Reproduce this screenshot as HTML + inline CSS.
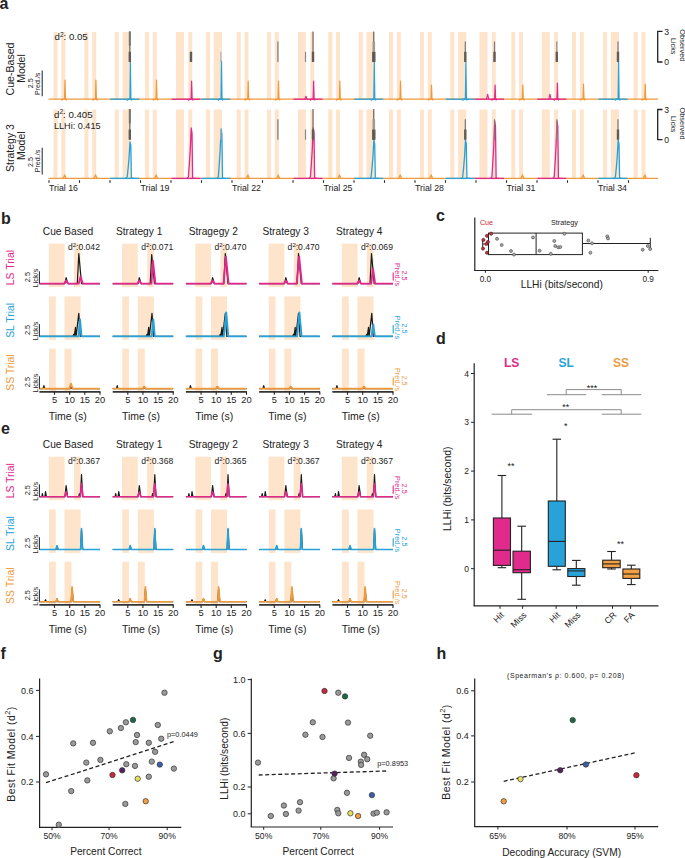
<!DOCTYPE html>
<html><head><meta charset="utf-8"><style>
html,body{margin:0;padding:0;background:#fff;}
body{width:685px;height:858px;overflow:hidden;}
svg{display:block;font-family:"Liberation Sans", sans-serif;}
</style></head><body>
<svg width="685" height="858" viewBox="0 0 685 858">
<rect width="685" height="858" fill="#fff"/>
<text x="-0.6" y="9.0" font-size="16" text-anchor="start" fill="#222" font-weight="bold">a</text>
<rect x="53.5" y="32.0" width="4.0" height="68.0" fill="#fde4cb"/>
<rect x="61.3" y="32.0" width="4.0" height="68.0" fill="#fde4cb"/>
<rect x="84.4" y="32.0" width="4.0" height="68.0" fill="#fde4cb"/>
<rect x="92.2" y="32.0" width="4.0" height="68.0" fill="#fde4cb"/>
<rect x="114.8" y="32.0" width="4.0" height="68.0" fill="#fde4cb"/>
<rect x="122.6" y="32.0" width="8.2" height="68.0" fill="#fde4cb"/>
<rect x="145.0" y="32.0" width="4.0" height="68.0" fill="#fde4cb"/>
<rect x="152.8" y="32.0" width="4.0" height="68.0" fill="#fde4cb"/>
<rect x="176.0" y="32.0" width="8.0" height="68.0" fill="#fde4cb"/>
<rect x="188.3" y="32.0" width="3.9" height="68.0" fill="#fde4cb"/>
<rect x="205.9" y="32.0" width="4.0" height="68.0" fill="#fde4cb"/>
<rect x="213.7" y="32.0" width="8.2" height="68.0" fill="#fde4cb"/>
<rect x="236.7" y="32.0" width="4.0" height="68.0" fill="#fde4cb"/>
<rect x="244.5" y="32.0" width="4.0" height="68.0" fill="#fde4cb"/>
<rect x="267.0" y="32.0" width="4.0" height="68.0" fill="#fde4cb"/>
<rect x="274.8" y="32.0" width="4.0" height="68.0" fill="#fde4cb"/>
<rect x="298.0" y="32.0" width="8.0" height="68.0" fill="#fde4cb"/>
<rect x="310.3" y="32.0" width="3.9" height="68.0" fill="#fde4cb"/>
<rect x="328.3" y="32.0" width="4.0" height="68.0" fill="#fde4cb"/>
<rect x="336.1" y="32.0" width="4.0" height="68.0" fill="#fde4cb"/>
<rect x="358.7" y="32.0" width="4.0" height="68.0" fill="#fde4cb"/>
<rect x="366.5" y="32.0" width="8.2" height="68.0" fill="#fde4cb"/>
<rect x="389.0" y="32.0" width="4.0" height="68.0" fill="#fde4cb"/>
<rect x="396.8" y="32.0" width="4.0" height="68.0" fill="#fde4cb"/>
<rect x="420.0" y="32.0" width="4.0" height="68.0" fill="#fde4cb"/>
<rect x="427.8" y="32.0" width="4.0" height="68.0" fill="#fde4cb"/>
<rect x="450.3" y="32.0" width="4.0" height="68.0" fill="#fde4cb"/>
<rect x="458.1" y="32.0" width="8.2" height="68.0" fill="#fde4cb"/>
<rect x="479.5" y="32.0" width="8.0" height="68.0" fill="#fde4cb"/>
<rect x="491.8" y="32.0" width="3.9" height="68.0" fill="#fde4cb"/>
<rect x="511.3" y="32.0" width="4.0" height="68.0" fill="#fde4cb"/>
<rect x="519.1" y="32.0" width="4.0" height="68.0" fill="#fde4cb"/>
<rect x="541.8" y="32.0" width="8.0" height="68.0" fill="#fde4cb"/>
<rect x="554.1" y="32.0" width="3.9" height="68.0" fill="#fde4cb"/>
<rect x="572.0" y="32.0" width="4.0" height="68.0" fill="#fde4cb"/>
<rect x="579.8" y="32.0" width="4.0" height="68.0" fill="#fde4cb"/>
<rect x="603.0" y="32.0" width="4.0" height="68.0" fill="#fde4cb"/>
<rect x="610.8" y="32.0" width="8.2" height="68.0" fill="#fde4cb"/>
<rect x="633.7" y="32.0" width="4.0" height="68.0" fill="#fde4cb"/>
<rect x="641.5" y="32.0" width="4.0" height="68.0" fill="#fde4cb"/>
<rect x="53.5" y="109.5" width="4.0" height="69.7" fill="#fde4cb"/>
<rect x="61.3" y="109.5" width="4.0" height="69.7" fill="#fde4cb"/>
<rect x="84.4" y="109.5" width="4.0" height="69.7" fill="#fde4cb"/>
<rect x="92.2" y="109.5" width="4.0" height="69.7" fill="#fde4cb"/>
<rect x="114.8" y="109.5" width="4.0" height="69.7" fill="#fde4cb"/>
<rect x="122.6" y="109.5" width="8.2" height="69.7" fill="#fde4cb"/>
<rect x="145.0" y="109.5" width="4.0" height="69.7" fill="#fde4cb"/>
<rect x="152.8" y="109.5" width="4.0" height="69.7" fill="#fde4cb"/>
<rect x="176.0" y="109.5" width="8.0" height="69.7" fill="#fde4cb"/>
<rect x="188.3" y="109.5" width="3.9" height="69.7" fill="#fde4cb"/>
<rect x="205.9" y="109.5" width="4.0" height="69.7" fill="#fde4cb"/>
<rect x="213.7" y="109.5" width="8.2" height="69.7" fill="#fde4cb"/>
<rect x="236.7" y="109.5" width="4.0" height="69.7" fill="#fde4cb"/>
<rect x="244.5" y="109.5" width="4.0" height="69.7" fill="#fde4cb"/>
<rect x="267.0" y="109.5" width="4.0" height="69.7" fill="#fde4cb"/>
<rect x="274.8" y="109.5" width="4.0" height="69.7" fill="#fde4cb"/>
<rect x="298.0" y="109.5" width="8.0" height="69.7" fill="#fde4cb"/>
<rect x="310.3" y="109.5" width="3.9" height="69.7" fill="#fde4cb"/>
<rect x="328.3" y="109.5" width="4.0" height="69.7" fill="#fde4cb"/>
<rect x="336.1" y="109.5" width="4.0" height="69.7" fill="#fde4cb"/>
<rect x="358.7" y="109.5" width="4.0" height="69.7" fill="#fde4cb"/>
<rect x="366.5" y="109.5" width="8.2" height="69.7" fill="#fde4cb"/>
<rect x="389.0" y="109.5" width="4.0" height="69.7" fill="#fde4cb"/>
<rect x="396.8" y="109.5" width="4.0" height="69.7" fill="#fde4cb"/>
<rect x="420.0" y="109.5" width="4.0" height="69.7" fill="#fde4cb"/>
<rect x="427.8" y="109.5" width="4.0" height="69.7" fill="#fde4cb"/>
<rect x="450.3" y="109.5" width="4.0" height="69.7" fill="#fde4cb"/>
<rect x="458.1" y="109.5" width="8.2" height="69.7" fill="#fde4cb"/>
<rect x="479.5" y="109.5" width="8.0" height="69.7" fill="#fde4cb"/>
<rect x="491.8" y="109.5" width="3.9" height="69.7" fill="#fde4cb"/>
<rect x="511.3" y="109.5" width="4.0" height="69.7" fill="#fde4cb"/>
<rect x="519.1" y="109.5" width="4.0" height="69.7" fill="#fde4cb"/>
<rect x="541.8" y="109.5" width="8.0" height="69.7" fill="#fde4cb"/>
<rect x="554.1" y="109.5" width="3.9" height="69.7" fill="#fde4cb"/>
<rect x="572.0" y="109.5" width="4.0" height="69.7" fill="#fde4cb"/>
<rect x="579.8" y="109.5" width="4.0" height="69.7" fill="#fde4cb"/>
<rect x="603.0" y="109.5" width="4.0" height="69.7" fill="#fde4cb"/>
<rect x="610.8" y="109.5" width="8.2" height="69.7" fill="#fde4cb"/>
<rect x="633.7" y="109.5" width="4.0" height="69.7" fill="#fde4cb"/>
<rect x="641.5" y="109.5" width="4.0" height="69.7" fill="#fde4cb"/>
<line x1="48.5" y1="99.2" x2="658.0" y2="99.2" stroke="#ef9a3c" stroke-width="1.3"/>
<line x1="110.3" y1="99.2" x2="139.3" y2="99.2" stroke="#27a2d8" stroke-width="1.3"/>
<line x1="171.5" y1="99.2" x2="200.5" y2="99.2" stroke="#e1288b" stroke-width="1.3"/>
<line x1="201.4" y1="99.2" x2="230.4" y2="99.2" stroke="#27a2d8" stroke-width="1.3"/>
<line x1="293.5" y1="99.2" x2="322.5" y2="99.2" stroke="#e1288b" stroke-width="1.3"/>
<line x1="354.2" y1="99.2" x2="383.2" y2="99.2" stroke="#27a2d8" stroke-width="1.3"/>
<line x1="445.8" y1="99.2" x2="474.8" y2="99.2" stroke="#27a2d8" stroke-width="1.3"/>
<line x1="475.0" y1="99.2" x2="504.0" y2="99.2" stroke="#e1288b" stroke-width="1.3"/>
<line x1="537.3" y1="99.2" x2="566.3" y2="99.2" stroke="#e1288b" stroke-width="1.3"/>
<line x1="598.5" y1="99.2" x2="627.5" y2="99.2" stroke="#27a2d8" stroke-width="1.3"/>
<polyline points="61.0,99.2 62.0,100.1 63.0,99.2 64.5,99.2 65.0,80.0 65.5,98.2 66.0,100.0 67.2,99.2" fill="none" stroke="#ef9a3c" stroke-width="1.2" stroke-linejoin="round"/>
<polyline points="91.9,99.2 92.9,100.1 93.9,99.2 95.4,99.2 95.9,80.0 96.4,98.2 96.9,100.0 98.1,99.2" fill="none" stroke="#ef9a3c" stroke-width="1.2" stroke-linejoin="round"/>
<polyline points="126.4,99.2 127.4,100.1 128.4,99.2 129.9,99.2 130.4,62.0 130.9,98.2 131.4,100.0 132.6,99.2" fill="none" stroke="#27a2d8" stroke-width="1.2" stroke-linejoin="round"/>
<polyline points="152.5,99.2 153.5,100.1 154.5,99.2 156.0,99.2 156.5,80.0 157.0,98.2 157.5,100.0 158.7,99.2" fill="none" stroke="#ef9a3c" stroke-width="1.2" stroke-linejoin="round"/>
<polyline points="187.6,99.2 188.6,100.1 189.6,99.2 191.1,99.2 191.6,81.0 192.1,98.2 192.6,100.0 193.8,99.2" fill="none" stroke="#e1288b" stroke-width="1.2" stroke-linejoin="round"/>
<polyline points="217.5,99.2 218.5,100.1 219.5,99.2 221.0,99.2 221.5,61.0 222.0,98.2 222.5,100.0 223.7,99.2" fill="none" stroke="#27a2d8" stroke-width="1.2" stroke-linejoin="round"/>
<polyline points="244.2,99.2 245.2,100.1 246.2,99.2 247.7,99.2 248.2,81.0 248.7,98.2 249.2,100.0 250.4,99.2" fill="none" stroke="#ef9a3c" stroke-width="1.2" stroke-linejoin="round"/>
<polyline points="274.5,99.2 275.5,100.1 276.5,99.2 278.0,99.2 278.5,81.0 279.0,98.2 279.5,100.0 280.7,99.2" fill="none" stroke="#ef9a3c" stroke-width="1.2" stroke-linejoin="round"/>
<polyline points="309.6,99.2 310.6,100.1 311.6,99.2 313.1,99.2 313.6,81.0 314.1,98.2 314.6,100.0 315.8,99.2" fill="none" stroke="#e1288b" stroke-width="1.2" stroke-linejoin="round"/>
<polyline points="335.8,99.2 336.8,100.1 337.8,99.2 339.3,99.2 339.8,81.0 340.3,98.2 340.8,100.0 342.0,99.2" fill="none" stroke="#ef9a3c" stroke-width="1.2" stroke-linejoin="round"/>
<polyline points="370.3,99.2 371.3,100.1 372.3,99.2 373.8,99.2 374.3,62.0 374.8,98.2 375.3,100.0 376.5,99.2" fill="none" stroke="#27a2d8" stroke-width="1.2" stroke-linejoin="round"/>
<polyline points="396.5,99.2 397.5,100.1 398.5,99.2 400.0,99.2 400.5,81.0 401.0,98.2 401.5,100.0 402.7,99.2" fill="none" stroke="#ef9a3c" stroke-width="1.2" stroke-linejoin="round"/>
<polyline points="427.5,99.2 428.5,100.1 429.5,99.2 431.0,99.2 431.5,85.0 432.0,98.2 432.5,100.0 433.7,99.2" fill="none" stroke="#ef9a3c" stroke-width="1.2" stroke-linejoin="round"/>
<polyline points="461.9,99.2 462.9,100.1 463.9,99.2 465.4,99.2 465.9,62.0 466.4,98.2 466.9,100.0 468.1,99.2" fill="none" stroke="#27a2d8" stroke-width="1.2" stroke-linejoin="round"/>
<polyline points="491.1,99.2 492.1,100.1 493.1,99.2 494.6,99.2 495.1,85.0 495.6,98.2 496.1,100.0 497.3,99.2" fill="none" stroke="#e1288b" stroke-width="1.2" stroke-linejoin="round"/>
<polyline points="518.8,99.2 519.8,100.1 520.8,99.2 522.3,99.2 522.8,85.0 523.3,98.2 523.8,100.0 525.0,99.2" fill="none" stroke="#ef9a3c" stroke-width="1.2" stroke-linejoin="round"/>
<polyline points="553.4,99.2 554.4,100.1 555.4,99.2 556.9,99.2 557.4,83.0 557.9,98.2 558.4,100.0 559.6,99.2" fill="none" stroke="#e1288b" stroke-width="1.2" stroke-linejoin="round"/>
<polyline points="579.5,99.2 580.5,100.1 581.5,99.2 583.0,99.2 583.5,84.0 584.0,98.2 584.5,100.0 585.7,99.2" fill="none" stroke="#ef9a3c" stroke-width="1.2" stroke-linejoin="round"/>
<polyline points="614.6,99.2 615.6,100.1 616.6,99.2 618.1,99.2 618.6,62.0 619.1,98.2 619.6,100.0 620.8,99.2" fill="none" stroke="#27a2d8" stroke-width="1.2" stroke-linejoin="round"/>
<polyline points="641.2,99.2 642.2,100.1 643.2,99.2 644.7,99.2 645.2,84.0 645.7,98.2 646.2,100.0 647.4,99.2" fill="none" stroke="#ef9a3c" stroke-width="1.2" stroke-linejoin="round"/>
<line x1="48.5" y1="178.4" x2="658.0" y2="178.4" stroke="#ef9a3c" stroke-width="1.3"/>
<line x1="110.3" y1="178.4" x2="139.3" y2="178.4" stroke="#27a2d8" stroke-width="1.3"/>
<line x1="171.5" y1="178.4" x2="200.5" y2="178.4" stroke="#e1288b" stroke-width="1.3"/>
<line x1="201.4" y1="178.4" x2="230.4" y2="178.4" stroke="#27a2d8" stroke-width="1.3"/>
<line x1="293.5" y1="178.4" x2="322.5" y2="178.4" stroke="#e1288b" stroke-width="1.3"/>
<line x1="354.2" y1="178.4" x2="383.2" y2="178.4" stroke="#27a2d8" stroke-width="1.3"/>
<line x1="445.8" y1="178.4" x2="474.8" y2="178.4" stroke="#27a2d8" stroke-width="1.3"/>
<line x1="475.0" y1="178.4" x2="504.0" y2="178.4" stroke="#e1288b" stroke-width="1.3"/>
<line x1="537.3" y1="178.4" x2="566.3" y2="178.4" stroke="#e1288b" stroke-width="1.3"/>
<line x1="598.5" y1="178.4" x2="627.5" y2="178.4" stroke="#27a2d8" stroke-width="1.3"/>
<polyline points="63.0,178.4 64.7,174.9 66.2,178.4" fill="none" stroke="#ef9a3c" stroke-width="1.2" stroke-linejoin="round"/>
<polyline points="93.9,178.4 95.6,174.9 97.1,178.4" fill="none" stroke="#ef9a3c" stroke-width="1.2" stroke-linejoin="round"/>
<polyline points="125.9,178.4 127.2,176.9 128.2,167.5 129.0,158.4 130.0,142.0 130.8,145.6 131.4,177.4 132.0,178.4 134.4,178.4" fill="none" stroke="#27a2d8" stroke-width="1.3" stroke-linejoin="round"/>
<polyline points="154.5,178.4 156.2,174.9 157.7,178.4" fill="none" stroke="#ef9a3c" stroke-width="1.2" stroke-linejoin="round"/>
<polyline points="187.1,178.4 188.4,176.9 189.4,163.3 190.2,150.7 191.2,128.0 192.0,133.0 192.6,177.4 193.2,178.4 195.6,178.4" fill="none" stroke="#e1288b" stroke-width="1.3" stroke-linejoin="round"/>
<polyline points="217.0,178.4 218.3,176.9 219.3,163.6 220.1,151.2 221.1,129.0 221.9,133.9 222.5,177.4 223.1,178.4 225.5,178.4" fill="none" stroke="#27a2d8" stroke-width="1.3" stroke-linejoin="round"/>
<polyline points="246.2,178.4 247.9,174.9 249.4,178.4" fill="none" stroke="#ef9a3c" stroke-width="1.2" stroke-linejoin="round"/>
<polyline points="276.5,178.4 278.2,174.9 279.7,178.4" fill="none" stroke="#ef9a3c" stroke-width="1.2" stroke-linejoin="round"/>
<polyline points="309.1,178.4 310.4,176.9 311.4,163.3 312.2,150.7 313.2,128.0 314.0,133.0 314.6,177.4 315.2,178.4 317.6,178.4" fill="none" stroke="#e1288b" stroke-width="1.3" stroke-linejoin="round"/>
<polyline points="337.8,178.4 339.5,174.9 341.0,178.4" fill="none" stroke="#ef9a3c" stroke-width="1.2" stroke-linejoin="round"/>
<polyline points="369.8,178.4 371.1,176.9 372.1,166.9 372.9,157.3 373.9,140.0 374.7,143.8 375.3,177.4 375.9,178.4 378.3,178.4" fill="none" stroke="#27a2d8" stroke-width="1.3" stroke-linejoin="round"/>
<polyline points="398.5,178.4 400.2,174.9 401.7,178.4" fill="none" stroke="#ef9a3c" stroke-width="1.2" stroke-linejoin="round"/>
<polyline points="429.5,178.4 431.2,174.9 432.7,178.4" fill="none" stroke="#ef9a3c" stroke-width="1.2" stroke-linejoin="round"/>
<polyline points="461.4,178.4 462.7,176.9 463.7,166.9 464.5,157.3 465.5,140.0 466.3,143.8 466.9,177.4 467.5,178.4 469.9,178.4" fill="none" stroke="#27a2d8" stroke-width="1.3" stroke-linejoin="round"/>
<polyline points="490.6,178.4 491.9,176.9 492.9,161.2 493.7,146.8 494.7,121.0 495.5,126.7 496.1,177.4 496.7,178.4 499.1,178.4" fill="none" stroke="#e1288b" stroke-width="1.3" stroke-linejoin="round"/>
<polyline points="520.8,178.4 522.5,174.9 524.0,178.4" fill="none" stroke="#ef9a3c" stroke-width="1.2" stroke-linejoin="round"/>
<polyline points="552.9,178.4 554.2,176.9 555.2,161.2 556.0,146.8 557.0,121.0 557.8,126.7 558.4,177.4 559.0,178.4 561.4,178.4" fill="none" stroke="#e1288b" stroke-width="1.3" stroke-linejoin="round"/>
<polyline points="581.5,178.4 583.2,174.9 584.7,178.4" fill="none" stroke="#ef9a3c" stroke-width="1.2" stroke-linejoin="round"/>
<polyline points="614.1,178.4 615.4,176.9 616.4,166.9 617.2,157.3 618.2,140.0 619.0,143.8 619.6,177.4 620.2,178.4 622.6,178.4" fill="none" stroke="#27a2d8" stroke-width="1.3" stroke-linejoin="round"/>
<polyline points="643.2,178.4 644.9,174.9 646.4,178.4" fill="none" stroke="#ef9a3c" stroke-width="1.2" stroke-linejoin="round"/>
<polyline points="486.5,99.2 487.7,94.2 488.7,99.2" fill="none" stroke="#e1288b" stroke-width="1.1" stroke-linejoin="round"/>
<polyline points="548.8,99.2 550.0,94.2 551.0,99.2" fill="none" stroke="#e1288b" stroke-width="1.1" stroke-linejoin="round"/>
<polyline points="304.8,99.2 306.0,96.2 307.0,99.2" fill="none" stroke="#e1288b" stroke-width="1.1" stroke-linejoin="round"/>
<line x1="129.8" y1="62.0" x2="129.8" y2="31.4" stroke="#6a6a6a" stroke-width="1.2"/>
<rect x="128.6" y="51.8" width="2.4" height="10.2" fill="#625c58"/>
<rect x="128.8" y="31.4" width="2.0" height="14.3" fill="#7a7470"/>
<line x1="191.0" y1="62.0" x2="191.0" y2="51.8" stroke="#6a6a6a" stroke-width="1.2"/>
<rect x="189.8" y="51.8" width="2.4" height="10.2" fill="#625c58"/>
<line x1="220.9" y1="62.0" x2="220.9" y2="51.8" stroke="#b0b0b0" stroke-width="1.2"/>
<line x1="277.9" y1="62.0" x2="277.9" y2="41.6" stroke="#7a7a7a" stroke-width="1.2"/>
<line x1="305.5" y1="62.0" x2="305.5" y2="51.8" stroke="#8a8a8a" stroke-width="1.2"/>
<line x1="313.0" y1="62.0" x2="313.0" y2="31.4" stroke="#6a6a6a" stroke-width="1.2"/>
<rect x="311.8" y="51.8" width="2.4" height="10.2" fill="#625c58"/>
<line x1="373.7" y1="62.0" x2="373.7" y2="31.4" stroke="#6a6a6a" stroke-width="1.2"/>
<rect x="372.5" y="51.8" width="2.4" height="10.2" fill="#625c58"/>
<rect x="372.1" y="51.8" width="3.4" height="10.2" fill="#5e5a56"/>
<rect x="372.5" y="41.6" width="2.6" height="10.2" fill="#a09a96"/>
<line x1="465.3" y1="62.0" x2="465.3" y2="41.6" stroke="#777" stroke-width="1.2"/>
<rect x="464.1" y="51.8" width="2.4" height="10.2" fill="#625c58"/>
<line x1="494.5" y1="62.0" x2="494.5" y2="41.6" stroke="#777" stroke-width="1.2"/>
<rect x="493.3" y="51.8" width="2.4" height="10.2" fill="#625c58"/>
<line x1="556.8" y1="62.0" x2="556.8" y2="41.6" stroke="#8a8a8a" stroke-width="1.2"/>
<rect x="555.6" y="51.8" width="2.4" height="10.2" fill="#625c58"/>
<line x1="618.0" y1="62.0" x2="618.0" y2="41.6" stroke="#777" stroke-width="1.2"/>
<rect x="616.8" y="51.8" width="2.4" height="10.2" fill="#625c58"/>
<line x1="129.8" y1="139.7" x2="129.8" y2="109.1" stroke="#6a6a6a" stroke-width="1.2"/>
<rect x="128.6" y="129.5" width="2.4" height="10.2" fill="#625c58"/>
<rect x="128.8" y="109.1" width="2.0" height="14.3" fill="#7a7470"/>
<line x1="220.9" y1="139.7" x2="220.9" y2="129.5" stroke="#b0b0b0" stroke-width="1.2"/>
<line x1="277.9" y1="139.7" x2="277.9" y2="119.3" stroke="#7a7a7a" stroke-width="1.2"/>
<line x1="305.5" y1="139.7" x2="305.5" y2="129.5" stroke="#8a8a8a" stroke-width="1.2"/>
<line x1="313.0" y1="139.7" x2="313.0" y2="109.1" stroke="#6a6a6a" stroke-width="1.2"/>
<rect x="311.8" y="129.5" width="2.4" height="10.2" fill="#625c58"/>
<line x1="373.7" y1="139.7" x2="373.7" y2="109.1" stroke="#6a6a6a" stroke-width="1.2"/>
<rect x="372.5" y="129.5" width="2.4" height="10.2" fill="#625c58"/>
<rect x="372.1" y="129.5" width="3.4" height="10.2" fill="#5e5a56"/>
<rect x="372.5" y="119.3" width="2.6" height="10.2" fill="#a09a96"/>
<line x1="465.3" y1="139.7" x2="465.3" y2="119.3" stroke="#777" stroke-width="1.2"/>
<rect x="464.1" y="129.5" width="2.4" height="10.2" fill="#625c58"/>
<line x1="494.5" y1="139.7" x2="494.5" y2="119.3" stroke="#777" stroke-width="1.2"/>
<line x1="556.8" y1="139.7" x2="556.8" y2="119.3" stroke="#8a8a8a" stroke-width="1.2"/>
<line x1="618.0" y1="139.7" x2="618.0" y2="119.3" stroke="#777" stroke-width="1.2"/>
<rect x="616.8" y="129.5" width="2.4" height="10.2" fill="#625c58"/>
<text x="10.0" y="69.0" font-size="10.6" text-anchor="middle" dominant-baseline="central" fill="#222" font-weight="normal" transform="rotate(-90 10.0 69.0)">Cue-Based</text>
<text x="21.0" y="68.5" font-size="10.5" text-anchor="middle" dominant-baseline="central" fill="#222" font-weight="normal" transform="rotate(-90 21.0 68.5)">Model</text>
<text x="31.0" y="83.3" font-size="7.1" text-anchor="middle" dominant-baseline="central" fill="#222" font-weight="normal" transform="rotate(-90 31.0 83.3)">2.5</text>
<text x="38.3" y="83.8" font-size="7.1" text-anchor="middle" dominant-baseline="central" fill="#222" font-weight="normal" transform="rotate(-90 38.3 83.8)">Pred./s</text>
<line x1="42.2" y1="70.5" x2="42.2" y2="96.2" stroke="#222" stroke-width="1"/>
<text x="10.0" y="148.0" font-size="10.5" text-anchor="middle" dominant-baseline="central" fill="#222" font-weight="normal" transform="rotate(-90 10.0 148.0)">Strategy 3</text>
<text x="21.0" y="145.7" font-size="10.5" text-anchor="middle" dominant-baseline="central" fill="#222" font-weight="normal" transform="rotate(-90 21.0 145.7)">Model</text>
<text x="31.0" y="162.0" font-size="7.1" text-anchor="middle" dominant-baseline="central" fill="#222" font-weight="normal" transform="rotate(-90 31.0 162.0)">2.5</text>
<text x="38.3" y="161.0" font-size="7.1" text-anchor="middle" dominant-baseline="central" fill="#222" font-weight="normal" transform="rotate(-90 38.3 161.0)">Pred./s</text>
<line x1="42.2" y1="147.7" x2="42.2" y2="174.5" stroke="#222" stroke-width="1"/>
<text x="54.5" y="40.0" font-size="9.7" text-anchor="start" fill="#222" font-weight="normal">d<tspan dy="-3.5" font-size="6.5">2</tspan><tspan dy="3.5">: 0.05</tspan></text>
<text x="54.0" y="117.5" font-size="9.7" text-anchor="start" fill="#222" font-weight="normal">d<tspan dy="-3.5" font-size="6.5">2</tspan><tspan dy="3.5">: 0.405</tspan></text>
<text x="54.0" y="128.5" font-size="9.1" text-anchor="start" fill="#222" font-weight="normal">LLHi: 0.415</text>
<line x1="49.0" y1="180.3" x2="49.0" y2="182.8" stroke="#222" stroke-width="1.1"/>
<line x1="79.5" y1="180.3" x2="79.5" y2="182.8" stroke="#222" stroke-width="1.1"/>
<line x1="110.0" y1="180.3" x2="110.0" y2="182.8" stroke="#222" stroke-width="1.1"/>
<line x1="140.5" y1="180.3" x2="140.5" y2="182.8" stroke="#222" stroke-width="1.1"/>
<line x1="171.0" y1="180.3" x2="171.0" y2="182.8" stroke="#222" stroke-width="1.1"/>
<line x1="201.5" y1="180.3" x2="201.5" y2="182.8" stroke="#222" stroke-width="1.1"/>
<line x1="232.0" y1="180.3" x2="232.0" y2="182.8" stroke="#222" stroke-width="1.1"/>
<line x1="262.5" y1="180.3" x2="262.5" y2="182.8" stroke="#222" stroke-width="1.1"/>
<line x1="293.0" y1="180.3" x2="293.0" y2="182.8" stroke="#222" stroke-width="1.1"/>
<line x1="323.5" y1="180.3" x2="323.5" y2="182.8" stroke="#222" stroke-width="1.1"/>
<line x1="354.0" y1="180.3" x2="354.0" y2="182.8" stroke="#222" stroke-width="1.1"/>
<line x1="384.5" y1="180.3" x2="384.5" y2="182.8" stroke="#222" stroke-width="1.1"/>
<line x1="415.0" y1="180.3" x2="415.0" y2="182.8" stroke="#222" stroke-width="1.1"/>
<line x1="445.5" y1="180.3" x2="445.5" y2="182.8" stroke="#222" stroke-width="1.1"/>
<line x1="476.0" y1="180.3" x2="476.0" y2="182.8" stroke="#222" stroke-width="1.1"/>
<line x1="506.5" y1="180.3" x2="506.5" y2="182.8" stroke="#222" stroke-width="1.1"/>
<line x1="537.0" y1="180.3" x2="537.0" y2="182.8" stroke="#222" stroke-width="1.1"/>
<line x1="567.5" y1="180.3" x2="567.5" y2="182.8" stroke="#222" stroke-width="1.1"/>
<line x1="598.0" y1="180.3" x2="598.0" y2="182.8" stroke="#222" stroke-width="1.1"/>
<line x1="628.5" y1="180.3" x2="628.5" y2="182.8" stroke="#222" stroke-width="1.1"/>
<text x="49.0" y="190.6" font-size="8.8" text-anchor="start" fill="#222" font-weight="normal">Trial 16</text>
<text x="140.5" y="190.6" font-size="8.8" text-anchor="start" fill="#222" font-weight="normal">Trial 19</text>
<text x="232.0" y="190.6" font-size="8.8" text-anchor="start" fill="#222" font-weight="normal">Trial 22</text>
<text x="323.5" y="190.6" font-size="8.8" text-anchor="start" fill="#222" font-weight="normal">Trial 25</text>
<text x="415.0" y="190.6" font-size="8.8" text-anchor="start" fill="#222" font-weight="normal">Trial 28</text>
<text x="506.5" y="190.6" font-size="8.8" text-anchor="start" fill="#222" font-weight="normal">Trial 31</text>
<text x="598.0" y="190.6" font-size="8.8" text-anchor="start" fill="#222" font-weight="normal">Trial 34</text>
<polyline points="662.5,31.4 657.7,31.4 657.7,62.0 662.5,62.0" fill="none" stroke="#222" stroke-width="1.3" stroke-linejoin="round"/>
<text x="664.3" y="34.9" font-size="8.6" text-anchor="start" fill="#222" font-weight="normal">3</text>
<text x="664.3" y="65.4" font-size="8.6" text-anchor="start" fill="#222" font-weight="normal">0</text>
<text x="682.0" y="45.4" font-size="7.4" text-anchor="middle" dominant-baseline="central" fill="#222" font-weight="normal" transform="rotate(90 682.0 45.4)">Observed</text>
<text x="673.6" y="46.2" font-size="7.2" text-anchor="middle" dominant-baseline="central" fill="#222" font-weight="normal" transform="rotate(90 673.6 46.2)">Licks</text>
<polyline points="662.5,109.5 657.7,109.5 657.7,139.7 662.5,139.7" fill="none" stroke="#222" stroke-width="1.3" stroke-linejoin="round"/>
<text x="664.3" y="113.0" font-size="8.6" text-anchor="start" fill="#222" font-weight="normal">3</text>
<text x="664.3" y="143.1" font-size="8.6" text-anchor="start" fill="#222" font-weight="normal">0</text>
<text x="682.0" y="123.5" font-size="7.4" text-anchor="middle" dominant-baseline="central" fill="#222" font-weight="normal" transform="rotate(90 682.0 123.5)">Observed</text>
<text x="673.6" y="124.3" font-size="7.2" text-anchor="middle" dominant-baseline="central" fill="#222" font-weight="normal" transform="rotate(90 673.6 124.3)">Licks</text>
<text x="1.0" y="223.6" font-size="16" text-anchor="start" fill="#222" font-weight="bold">b</text>
<text x="68.0" y="234.5" font-size="10.2" text-anchor="middle" fill="#222" font-weight="normal">Cue Based</text>
<rect x="48.8" y="243.6" width="15.8" height="43.5" fill="#fde4cb"/>
<rect x="73.9" y="243.6" width="6.7" height="43.5" fill="#fde4cb"/>
<rect x="49.1" y="296.4" width="6.7" height="43.5" fill="#fde4cb"/>
<rect x="64.5" y="296.4" width="16.1" height="43.5" fill="#fde4cb"/>
<rect x="49.1" y="348.6" width="6.7" height="43.5" fill="#fde4cb"/>
<rect x="64.5" y="348.6" width="7.0" height="43.5" fill="#fde4cb"/>
<text x="67.9" y="250.4" font-size="8.6" text-anchor="start" fill="#222" font-weight="normal">d<tspan dy="-3" font-size="6">2</tspan><tspan dy="3">:0.042</tspan></text>
<polyline points="39.4,283.6 64.9,283.6 66.1,277.6 67.9,283.6 77.3,283.6 78.8,253.6 81.5,283.6 100.0,283.6" fill="none" stroke="#1a1a1a" stroke-width="1.2" stroke-linejoin="round"/>
<polyline points="39.4,283.6 64.2,283.6 66.1,280.6 67.9,283.6 78.8,283.6 80.6,276.6 82.7,283.6 100.0,283.6" fill="none" stroke="#e1288b" stroke-width="1.9" stroke-linejoin="round"/>
<polyline points="39.4,336.4 73.0,336.4 73.6,334.4 73.9,336.4 74.2,336.4 75.5,327.4 75.8,336.4 76.1,336.4 78.8,313.4 80.3,336.4 100.0,336.4" fill="none" stroke="#1a1a1a" stroke-width="1.2" stroke-linejoin="round"/>
<polyline points="39.4,336.4 78.5,336.4 80.0,319.4 81.5,336.4 100.0,336.4" fill="none" stroke="#27a2d8" stroke-width="1.9" stroke-linejoin="round"/>
<polyline points="39.4,388.6 43.0,388.6 43.9,385.6 44.9,388.6 70.0,388.6 70.9,385.6 71.8,388.6 100.0,388.6" fill="none" stroke="#1a1a1a" stroke-width="1.2" stroke-linejoin="round"/>
<polyline points="39.4,388.6 69.4,388.6 70.9,383.6 72.7,388.6 100.0,388.6" fill="none" stroke="#ef9a3c" stroke-width="1.9" stroke-linejoin="round"/>
<line x1="39.4" y1="391.8" x2="100.4" y2="391.8" stroke="#333" stroke-width="1.8"/>
<line x1="54.5" y1="391.8" x2="54.5" y2="394.8" stroke="#222" stroke-width="1.1"/>
<text x="54.5" y="403.2" font-size="9.3" text-anchor="middle" fill="#222" font-weight="normal">5</text>
<line x1="69.7" y1="391.8" x2="69.7" y2="394.8" stroke="#222" stroke-width="1.1"/>
<text x="69.7" y="403.2" font-size="9.3" text-anchor="middle" fill="#222" font-weight="normal">10</text>
<line x1="84.8" y1="391.8" x2="84.8" y2="394.8" stroke="#222" stroke-width="1.1"/>
<text x="84.8" y="403.2" font-size="9.3" text-anchor="middle" fill="#222" font-weight="normal">15</text>
<line x1="100.0" y1="391.8" x2="100.0" y2="394.8" stroke="#222" stroke-width="1.1"/>
<text x="100.0" y="403.2" font-size="9.3" text-anchor="middle" fill="#222" font-weight="normal">20</text>
<text x="67.7" y="419.5" font-size="10.5" text-anchor="middle" fill="#222" font-weight="normal">Time (s)</text>
<line x1="39.4" y1="271.3" x2="39.4" y2="283.6" stroke="#222" stroke-width="1"/>
<text x="27.8" y="277.1" font-size="7.4" text-anchor="middle" dominant-baseline="central" fill="#222" font-weight="normal" transform="rotate(-90 27.8 277.1)">2.5</text>
<text x="35.6" y="278.1" font-size="7.4" text-anchor="middle" dominant-baseline="central" fill="#222" font-weight="normal" transform="rotate(-90 35.6 278.1)">Lick/s</text>
<text x="10.6" y="267.6" font-size="10.4" text-anchor="middle" dominant-baseline="central" fill="#e1288b" font-weight="normal" transform="rotate(-90 10.6 267.6)">LS Trial</text>
<line x1="39.4" y1="324.1" x2="39.4" y2="336.4" stroke="#222" stroke-width="1"/>
<text x="27.8" y="329.9" font-size="7.4" text-anchor="middle" dominant-baseline="central" fill="#222" font-weight="normal" transform="rotate(-90 27.8 329.9)">2.5</text>
<text x="35.6" y="330.9" font-size="7.4" text-anchor="middle" dominant-baseline="central" fill="#222" font-weight="normal" transform="rotate(-90 35.6 330.9)">Lick/s</text>
<text x="10.6" y="320.4" font-size="10.4" text-anchor="middle" dominant-baseline="central" fill="#27a2d8" font-weight="normal" transform="rotate(-90 10.6 320.4)">SL Trial</text>
<line x1="39.4" y1="376.3" x2="39.4" y2="388.6" stroke="#222" stroke-width="1"/>
<text x="27.8" y="382.1" font-size="7.4" text-anchor="middle" dominant-baseline="central" fill="#222" font-weight="normal" transform="rotate(-90 27.8 382.1)">2.5</text>
<text x="35.6" y="383.1" font-size="7.4" text-anchor="middle" dominant-baseline="central" fill="#222" font-weight="normal" transform="rotate(-90 35.6 383.1)">Lick/s</text>
<text x="10.6" y="372.6" font-size="10.4" text-anchor="middle" dominant-baseline="central" fill="#ef9a3c" font-weight="normal" transform="rotate(-90 10.6 372.6)">SS Trial</text>
<text x="139.1" y="234.5" font-size="10.2" text-anchor="middle" fill="#222" font-weight="normal">Strategy 1</text>
<rect x="122.0" y="243.6" width="15.8" height="43.5" fill="#fde4cb"/>
<rect x="147.2" y="243.6" width="6.7" height="43.5" fill="#fde4cb"/>
<rect x="122.3" y="296.4" width="6.7" height="43.5" fill="#fde4cb"/>
<rect x="137.8" y="296.4" width="16.1" height="43.5" fill="#fde4cb"/>
<rect x="122.3" y="348.6" width="6.7" height="43.5" fill="#fde4cb"/>
<rect x="137.8" y="348.6" width="7.0" height="43.5" fill="#fde4cb"/>
<text x="141.2" y="250.4" font-size="8.6" text-anchor="start" fill="#222" font-weight="normal">d<tspan dy="-3" font-size="6">2</tspan><tspan dy="3">:0.071</tspan></text>
<polyline points="112.7,283.6 138.1,283.6 139.3,277.6 141.1,283.6 150.2,283.6 151.7,254.6 154.5,283.6 173.2,283.6" fill="none" stroke="#1a1a1a" stroke-width="1.2" stroke-linejoin="round"/>
<polyline points="112.7,283.6 137.5,283.6 139.3,280.6 141.1,283.6 151.4,283.6 152.9,260.6 155.4,283.6 173.2,283.6" fill="none" stroke="#e1288b" stroke-width="1.9" stroke-linejoin="round"/>
<polyline points="112.7,336.4 146.3,336.4 146.9,334.4 147.2,336.4 147.5,336.4 148.7,327.4 149.0,336.4 149.3,336.4 152.0,313.4 153.6,336.4 173.2,336.4" fill="none" stroke="#1a1a1a" stroke-width="1.2" stroke-linejoin="round"/>
<polyline points="112.7,336.4 151.7,336.4 153.3,319.4 154.8,336.4 173.2,336.4" fill="none" stroke="#27a2d8" stroke-width="1.9" stroke-linejoin="round"/>
<polyline points="112.7,388.6 116.3,388.6 117.2,385.6 118.1,388.6 143.3,388.6 144.2,386.6 145.1,388.6 173.2,388.6" fill="none" stroke="#1a1a1a" stroke-width="1.2" stroke-linejoin="round"/>
<polyline points="112.7,388.6 142.6,388.6 144.2,386.6 146.0,388.6 173.2,388.6" fill="none" stroke="#ef9a3c" stroke-width="1.9" stroke-linejoin="round"/>
<line x1="112.7" y1="391.8" x2="173.7" y2="391.8" stroke="#333" stroke-width="1.8"/>
<line x1="127.8" y1="391.8" x2="127.8" y2="394.8" stroke="#222" stroke-width="1.1"/>
<text x="127.8" y="403.2" font-size="9.3" text-anchor="middle" fill="#222" font-weight="normal">5</text>
<line x1="142.9" y1="391.8" x2="142.9" y2="394.8" stroke="#222" stroke-width="1.1"/>
<text x="142.9" y="403.2" font-size="9.3" text-anchor="middle" fill="#222" font-weight="normal">10</text>
<line x1="158.1" y1="391.8" x2="158.1" y2="394.8" stroke="#222" stroke-width="1.1"/>
<text x="158.1" y="403.2" font-size="9.3" text-anchor="middle" fill="#222" font-weight="normal">15</text>
<line x1="173.2" y1="391.8" x2="173.2" y2="394.8" stroke="#222" stroke-width="1.1"/>
<text x="173.2" y="403.2" font-size="9.3" text-anchor="middle" fill="#222" font-weight="normal">20</text>
<text x="141.0" y="419.5" font-size="10.5" text-anchor="middle" fill="#222" font-weight="normal">Time (s)</text>
<text x="213.3" y="234.5" font-size="10.2" text-anchor="middle" fill="#222" font-weight="normal">Stragegy 2</text>
<rect x="195.3" y="243.6" width="15.8" height="43.5" fill="#fde4cb"/>
<rect x="220.4" y="243.6" width="6.7" height="43.5" fill="#fde4cb"/>
<rect x="195.6" y="296.4" width="6.7" height="43.5" fill="#fde4cb"/>
<rect x="211.0" y="296.4" width="16.1" height="43.5" fill="#fde4cb"/>
<rect x="195.6" y="348.6" width="6.7" height="43.5" fill="#fde4cb"/>
<rect x="211.0" y="348.6" width="7.0" height="43.5" fill="#fde4cb"/>
<text x="214.4" y="250.4" font-size="8.6" text-anchor="start" fill="#222" font-weight="normal">d<tspan dy="-3" font-size="6">2</tspan><tspan dy="3">:0.470</tspan></text>
<polyline points="185.9,283.6 211.4,283.6 212.6,277.6 214.4,283.6 223.8,283.6 225.3,253.6 228.0,283.6 246.5,283.6" fill="none" stroke="#1a1a1a" stroke-width="1.2" stroke-linejoin="round"/>
<polyline points="185.9,283.6 210.7,283.6 212.6,280.6 214.4,283.6 223.5,283.6 225.9,256.6 228.6,283.6 246.5,283.6" fill="none" stroke="#e1288b" stroke-width="1.9" stroke-linejoin="round"/>
<polyline points="185.9,336.4 219.5,336.4 220.1,334.4 220.4,336.4 220.7,336.4 222.0,327.4 222.3,336.4 222.6,336.4 225.3,313.4 226.8,336.4 246.5,336.4" fill="none" stroke="#1a1a1a" stroke-width="1.2" stroke-linejoin="round"/>
<polyline points="185.9,336.4 223.8,336.4 226.2,312.4 228.3,336.4 246.5,336.4" fill="none" stroke="#27a2d8" stroke-width="1.9" stroke-linejoin="round"/>
<polyline points="185.9,388.6 189.5,388.6 190.4,385.6 191.4,388.6 216.5,388.6 217.4,386.6 218.3,388.6 246.5,388.6" fill="none" stroke="#1a1a1a" stroke-width="1.2" stroke-linejoin="round"/>
<polyline points="185.9,388.6 215.9,388.6 217.4,386.6 219.2,388.6 246.5,388.6" fill="none" stroke="#ef9a3c" stroke-width="1.9" stroke-linejoin="round"/>
<line x1="185.9" y1="391.8" x2="246.9" y2="391.8" stroke="#333" stroke-width="1.8"/>
<line x1="201.1" y1="391.8" x2="201.1" y2="394.8" stroke="#222" stroke-width="1.1"/>
<text x="201.1" y="403.2" font-size="9.3" text-anchor="middle" fill="#222" font-weight="normal">5</text>
<line x1="216.2" y1="391.8" x2="216.2" y2="394.8" stroke="#222" stroke-width="1.1"/>
<text x="216.2" y="403.2" font-size="9.3" text-anchor="middle" fill="#222" font-weight="normal">10</text>
<line x1="231.3" y1="391.8" x2="231.3" y2="394.8" stroke="#222" stroke-width="1.1"/>
<text x="231.3" y="403.2" font-size="9.3" text-anchor="middle" fill="#222" font-weight="normal">15</text>
<line x1="246.5" y1="391.8" x2="246.5" y2="394.8" stroke="#222" stroke-width="1.1"/>
<text x="246.5" y="403.2" font-size="9.3" text-anchor="middle" fill="#222" font-weight="normal">20</text>
<text x="214.2" y="419.5" font-size="10.5" text-anchor="middle" fill="#222" font-weight="normal">Time (s)</text>
<text x="285.7" y="234.5" font-size="10.2" text-anchor="middle" fill="#222" font-weight="normal">Strategy 3</text>
<rect x="268.5" y="243.6" width="15.8" height="43.5" fill="#fde4cb"/>
<rect x="293.7" y="243.6" width="6.7" height="43.5" fill="#fde4cb"/>
<rect x="268.8" y="296.4" width="6.7" height="43.5" fill="#fde4cb"/>
<rect x="284.3" y="296.4" width="16.1" height="43.5" fill="#fde4cb"/>
<rect x="268.8" y="348.6" width="6.7" height="43.5" fill="#fde4cb"/>
<rect x="284.3" y="348.6" width="7.0" height="43.5" fill="#fde4cb"/>
<text x="287.6" y="250.4" font-size="8.6" text-anchor="start" fill="#222" font-weight="normal">d<tspan dy="-3" font-size="6">2</tspan><tspan dy="3">:0.470</tspan></text>
<polyline points="259.1,283.6 284.6,283.6 285.8,277.6 287.6,283.6 297.0,283.6 298.5,253.6 301.3,283.6 319.8,283.6" fill="none" stroke="#1a1a1a" stroke-width="1.2" stroke-linejoin="round"/>
<polyline points="259.1,283.6 284.0,283.6 285.8,280.6 287.6,283.6 296.7,283.6 299.1,256.6 301.9,283.6 319.8,283.6" fill="none" stroke="#e1288b" stroke-width="1.9" stroke-linejoin="round"/>
<polyline points="259.1,336.4 292.8,336.4 293.4,334.4 293.7,336.4 294.0,336.4 295.2,327.4 295.5,336.4 295.8,336.4 298.5,313.4 300.1,336.4 319.8,336.4" fill="none" stroke="#1a1a1a" stroke-width="1.2" stroke-linejoin="round"/>
<polyline points="259.1,336.4 297.0,336.4 299.4,312.4 301.6,336.4 319.8,336.4" fill="none" stroke="#27a2d8" stroke-width="1.9" stroke-linejoin="round"/>
<polyline points="259.1,388.6 262.8,388.6 263.7,385.6 264.6,388.6 289.8,388.6 290.7,386.6 291.6,388.6 319.8,388.6" fill="none" stroke="#1a1a1a" stroke-width="1.2" stroke-linejoin="round"/>
<polyline points="259.1,388.6 289.1,388.6 290.7,386.6 292.5,388.6 319.8,388.6" fill="none" stroke="#ef9a3c" stroke-width="1.9" stroke-linejoin="round"/>
<line x1="259.1" y1="391.8" x2="320.1" y2="391.8" stroke="#333" stroke-width="1.8"/>
<line x1="274.3" y1="391.8" x2="274.3" y2="394.8" stroke="#222" stroke-width="1.1"/>
<text x="274.3" y="403.2" font-size="9.3" text-anchor="middle" fill="#222" font-weight="normal">5</text>
<line x1="289.4" y1="391.8" x2="289.4" y2="394.8" stroke="#222" stroke-width="1.1"/>
<text x="289.4" y="403.2" font-size="9.3" text-anchor="middle" fill="#222" font-weight="normal">10</text>
<line x1="304.6" y1="391.8" x2="304.6" y2="394.8" stroke="#222" stroke-width="1.1"/>
<text x="304.6" y="403.2" font-size="9.3" text-anchor="middle" fill="#222" font-weight="normal">15</text>
<line x1="319.8" y1="391.8" x2="319.8" y2="394.8" stroke="#222" stroke-width="1.1"/>
<text x="319.8" y="403.2" font-size="9.3" text-anchor="middle" fill="#222" font-weight="normal">20</text>
<text x="287.4" y="419.5" font-size="10.5" text-anchor="middle" fill="#222" font-weight="normal">Time (s)</text>
<text x="359.3" y="234.5" font-size="10.2" text-anchor="middle" fill="#222" font-weight="normal">Strategy 4</text>
<rect x="341.8" y="243.6" width="15.8" height="43.5" fill="#fde4cb"/>
<rect x="366.9" y="243.6" width="6.7" height="43.5" fill="#fde4cb"/>
<rect x="342.1" y="296.4" width="6.7" height="43.5" fill="#fde4cb"/>
<rect x="357.5" y="296.4" width="16.1" height="43.5" fill="#fde4cb"/>
<rect x="342.1" y="348.6" width="6.7" height="43.5" fill="#fde4cb"/>
<rect x="357.5" y="348.6" width="7.0" height="43.5" fill="#fde4cb"/>
<text x="360.9" y="250.4" font-size="8.6" text-anchor="start" fill="#222" font-weight="normal">d<tspan dy="-3" font-size="6">2</tspan><tspan dy="3">:0.069</tspan></text>
<polyline points="332.4,283.6 357.9,283.6 359.1,277.6 360.9,283.6 370.0,283.6 371.5,253.6 374.2,283.6 393.0,283.6" fill="none" stroke="#1a1a1a" stroke-width="1.2" stroke-linejoin="round"/>
<polyline points="332.4,283.6 357.2,283.6 359.1,280.6 360.9,283.6 371.2,283.6 373.0,268.6 375.1,283.6 393.0,283.6" fill="none" stroke="#e1288b" stroke-width="1.9" stroke-linejoin="round"/>
<polyline points="332.4,336.4 366.0,336.4 366.6,334.4 366.9,336.4 367.2,336.4 368.5,327.4 368.8,336.4 369.1,336.4 371.8,313.4 373.3,336.4 393.0,336.4" fill="none" stroke="#1a1a1a" stroke-width="1.2" stroke-linejoin="round"/>
<polyline points="332.4,336.4 371.5,336.4 373.3,324.4 374.8,336.4 393.0,336.4" fill="none" stroke="#27a2d8" stroke-width="1.9" stroke-linejoin="round"/>
<polyline points="332.4,388.6 336.0,388.6 336.9,385.6 337.9,388.6 363.0,388.6 363.9,386.6 364.8,388.6 393.0,388.6" fill="none" stroke="#1a1a1a" stroke-width="1.2" stroke-linejoin="round"/>
<polyline points="332.4,388.6 362.4,388.6 363.9,386.6 365.7,388.6 393.0,388.6" fill="none" stroke="#ef9a3c" stroke-width="1.9" stroke-linejoin="round"/>
<line x1="332.4" y1="391.8" x2="393.4" y2="391.8" stroke="#333" stroke-width="1.8"/>
<line x1="347.5" y1="391.8" x2="347.5" y2="394.8" stroke="#222" stroke-width="1.1"/>
<text x="347.5" y="403.2" font-size="9.3" text-anchor="middle" fill="#222" font-weight="normal">5</text>
<line x1="362.7" y1="391.8" x2="362.7" y2="394.8" stroke="#222" stroke-width="1.1"/>
<text x="362.7" y="403.2" font-size="9.3" text-anchor="middle" fill="#222" font-weight="normal">10</text>
<line x1="377.8" y1="391.8" x2="377.8" y2="394.8" stroke="#222" stroke-width="1.1"/>
<text x="377.8" y="403.2" font-size="9.3" text-anchor="middle" fill="#222" font-weight="normal">15</text>
<line x1="393.0" y1="391.8" x2="393.0" y2="394.8" stroke="#222" stroke-width="1.1"/>
<text x="393.0" y="403.2" font-size="9.3" text-anchor="middle" fill="#222" font-weight="normal">20</text>
<text x="360.7" y="419.5" font-size="10.5" text-anchor="middle" fill="#222" font-weight="normal">Time (s)</text>
<line x1="393.2" y1="272.4" x2="393.2" y2="280.6" stroke="#e1288b" stroke-width="1.1"/>
<text x="397.5" y="274.6" font-size="7.4" text-anchor="middle" dominant-baseline="central" fill="#e1288b" font-weight="normal" transform="rotate(90 397.5 274.6)">Pred./s</text>
<text x="404.5" y="275.6" font-size="7.4" text-anchor="middle" dominant-baseline="central" fill="#e1288b" font-weight="normal" transform="rotate(90 404.5 275.6)">2.5</text>
<line x1="393.2" y1="325.2" x2="393.2" y2="333.4" stroke="#27a2d8" stroke-width="1.1"/>
<text x="397.5" y="327.4" font-size="7.4" text-anchor="middle" dominant-baseline="central" fill="#27a2d8" font-weight="normal" transform="rotate(90 397.5 327.4)">Pred./s</text>
<text x="404.5" y="328.4" font-size="7.4" text-anchor="middle" dominant-baseline="central" fill="#27a2d8" font-weight="normal" transform="rotate(90 404.5 328.4)">2.5</text>
<line x1="393.2" y1="377.4" x2="393.2" y2="385.6" stroke="#ef9a3c" stroke-width="1.1"/>
<text x="397.5" y="379.6" font-size="7.4" text-anchor="middle" dominant-baseline="central" fill="#ef9a3c" font-weight="normal" transform="rotate(90 397.5 379.6)">Pred./s</text>
<text x="404.5" y="380.6" font-size="7.4" text-anchor="middle" dominant-baseline="central" fill="#ef9a3c" font-weight="normal" transform="rotate(90 404.5 380.6)">2.5</text>
<text x="1.0" y="433.6" font-size="16" text-anchor="start" fill="#222" font-weight="bold">e</text>
<text x="68.0" y="447.6" font-size="10.2" text-anchor="middle" fill="#222" font-weight="normal">Cue Based</text>
<rect x="48.8" y="456.7" width="15.8" height="43.5" fill="#fde4cb"/>
<rect x="73.9" y="456.7" width="6.7" height="43.5" fill="#fde4cb"/>
<rect x="49.1" y="509.5" width="6.7" height="43.5" fill="#fde4cb"/>
<rect x="64.5" y="509.5" width="16.1" height="43.5" fill="#fde4cb"/>
<rect x="49.1" y="561.7" width="6.7" height="43.5" fill="#fde4cb"/>
<rect x="64.5" y="561.7" width="7.0" height="43.5" fill="#fde4cb"/>
<text x="67.9" y="463.5" font-size="8.6" text-anchor="start" fill="#222" font-weight="normal">d<tspan dy="-3" font-size="6">2</tspan><tspan dy="3">:0.367</tspan></text>
<polyline points="39.4,496.7 41.8,496.7 42.4,493.7 43.0,496.7 44.9,496.7 45.5,491.7 46.4,496.7 64.9,496.7 66.1,485.7 67.6,496.7 78.8,496.7 79.4,493.7 80.0,496.7 80.5,496.7 81.5,474.7 82.7,496.7 100.0,496.7" fill="none" stroke="#1a1a1a" stroke-width="1.2" stroke-linejoin="round"/>
<polyline points="39.4,496.7 64.5,496.7 66.1,491.7 67.6,496.7 80.2,496.7 81.5,483.7 83.0,496.7 100.0,496.7" fill="none" stroke="#e1288b" stroke-width="1.6" stroke-linejoin="round"/>
<polyline points="39.4,549.5 56.1,549.5 57.0,546.5 57.9,549.5 80.6,549.5 81.5,529.5 82.7,549.5 100.0,549.5" fill="none" stroke="#1a1a1a" stroke-width="1.2" stroke-linejoin="round"/>
<polyline points="39.4,549.5 55.9,549.5 57.0,545.5 58.2,549.5 80.6,549.5 81.5,528.5 82.6,549.5 100.0,549.5" fill="none" stroke="#27a2d8" stroke-width="1.6" stroke-linejoin="round"/>
<polyline points="39.4,601.7 44.6,601.7 45.5,599.7 46.4,601.7 56.1,601.7 57.0,598.7 57.9,601.7 71.2,601.7 72.1,588.7 73.3,601.7 100.0,601.7" fill="none" stroke="#1a1a1a" stroke-width="1.2" stroke-linejoin="round"/>
<polyline points="39.4,601.7 55.9,601.7 57.0,598.7 58.2,601.7 71.2,601.7 72.1,586.7 73.5,601.7 100.0,601.7" fill="none" stroke="#ef9a3c" stroke-width="1.6" stroke-linejoin="round"/>
<line x1="39.4" y1="604.9" x2="100.4" y2="604.9" stroke="#333" stroke-width="1.8"/>
<line x1="54.5" y1="604.9" x2="54.5" y2="607.9" stroke="#222" stroke-width="1.1"/>
<text x="54.5" y="616.3" font-size="9.3" text-anchor="middle" fill="#222" font-weight="normal">5</text>
<line x1="69.7" y1="604.9" x2="69.7" y2="607.9" stroke="#222" stroke-width="1.1"/>
<text x="69.7" y="616.3" font-size="9.3" text-anchor="middle" fill="#222" font-weight="normal">10</text>
<line x1="84.8" y1="604.9" x2="84.8" y2="607.9" stroke="#222" stroke-width="1.1"/>
<text x="84.8" y="616.3" font-size="9.3" text-anchor="middle" fill="#222" font-weight="normal">15</text>
<line x1="100.0" y1="604.9" x2="100.0" y2="607.9" stroke="#222" stroke-width="1.1"/>
<text x="100.0" y="616.3" font-size="9.3" text-anchor="middle" fill="#222" font-weight="normal">20</text>
<text x="67.7" y="632.6" font-size="10.5" text-anchor="middle" fill="#222" font-weight="normal">Time (s)</text>
<line x1="39.4" y1="484.4" x2="39.4" y2="496.7" stroke="#222" stroke-width="1"/>
<text x="27.8" y="490.2" font-size="7.4" text-anchor="middle" dominant-baseline="central" fill="#222" font-weight="normal" transform="rotate(-90 27.8 490.2)">2.5</text>
<text x="35.6" y="491.2" font-size="7.4" text-anchor="middle" dominant-baseline="central" fill="#222" font-weight="normal" transform="rotate(-90 35.6 491.2)">Lick/s</text>
<text x="10.6" y="480.7" font-size="10.4" text-anchor="middle" dominant-baseline="central" fill="#e1288b" font-weight="normal" transform="rotate(-90 10.6 480.7)">LS Trial</text>
<line x1="39.4" y1="537.2" x2="39.4" y2="549.5" stroke="#222" stroke-width="1"/>
<text x="27.8" y="543.0" font-size="7.4" text-anchor="middle" dominant-baseline="central" fill="#222" font-weight="normal" transform="rotate(-90 27.8 543.0)">2.5</text>
<text x="35.6" y="544.0" font-size="7.4" text-anchor="middle" dominant-baseline="central" fill="#222" font-weight="normal" transform="rotate(-90 35.6 544.0)">Lick/s</text>
<text x="10.6" y="533.5" font-size="10.4" text-anchor="middle" dominant-baseline="central" fill="#27a2d8" font-weight="normal" transform="rotate(-90 10.6 533.5)">SL Trial</text>
<line x1="39.4" y1="589.4" x2="39.4" y2="601.7" stroke="#222" stroke-width="1"/>
<text x="27.8" y="595.2" font-size="7.4" text-anchor="middle" dominant-baseline="central" fill="#222" font-weight="normal" transform="rotate(-90 27.8 595.2)">2.5</text>
<text x="35.6" y="596.2" font-size="7.4" text-anchor="middle" dominant-baseline="central" fill="#222" font-weight="normal" transform="rotate(-90 35.6 596.2)">Lick/s</text>
<text x="10.6" y="585.7" font-size="10.4" text-anchor="middle" dominant-baseline="central" fill="#ef9a3c" font-weight="normal" transform="rotate(-90 10.6 585.7)">SS Trial</text>
<text x="139.1" y="447.6" font-size="10.2" text-anchor="middle" fill="#222" font-weight="normal">Strategy 1</text>
<rect x="122.0" y="456.7" width="15.8" height="43.5" fill="#fde4cb"/>
<rect x="147.2" y="456.7" width="6.7" height="43.5" fill="#fde4cb"/>
<rect x="122.3" y="509.5" width="6.7" height="43.5" fill="#fde4cb"/>
<rect x="137.8" y="509.5" width="16.1" height="43.5" fill="#fde4cb"/>
<rect x="122.3" y="561.7" width="6.7" height="43.5" fill="#fde4cb"/>
<rect x="137.8" y="561.7" width="7.0" height="43.5" fill="#fde4cb"/>
<text x="141.2" y="463.5" font-size="8.6" text-anchor="start" fill="#222" font-weight="normal">d<tspan dy="-3" font-size="6">2</tspan><tspan dy="3">:0.368</tspan></text>
<polyline points="112.7,496.7 115.1,496.7 115.7,493.7 116.3,496.7 118.1,496.7 118.7,491.7 119.6,496.7 138.1,496.7 139.3,485.7 140.8,496.7 152.0,496.7 152.6,493.7 153.3,496.7 153.7,496.7 154.8,474.7 156.0,496.7 173.2,496.7" fill="none" stroke="#1a1a1a" stroke-width="1.2" stroke-linejoin="round"/>
<polyline points="112.7,496.7 137.8,496.7 139.3,491.7 140.8,496.7 153.4,496.7 154.8,483.7 156.3,496.7 173.2,496.7" fill="none" stroke="#e1288b" stroke-width="1.6" stroke-linejoin="round"/>
<polyline points="112.7,549.5 129.3,549.5 130.2,546.5 131.1,549.5 153.9,549.5 154.8,529.5 156.0,549.5 173.2,549.5" fill="none" stroke="#1a1a1a" stroke-width="1.2" stroke-linejoin="round"/>
<polyline points="112.7,549.5 129.2,549.5 130.2,545.5 131.4,549.5 153.9,549.5 154.8,528.5 155.8,549.5 173.2,549.5" fill="none" stroke="#27a2d8" stroke-width="1.6" stroke-linejoin="round"/>
<polyline points="112.7,601.7 117.8,601.7 118.7,599.7 119.6,601.7 129.3,601.7 130.2,598.7 131.1,601.7 144.5,601.7 145.4,588.7 146.6,601.7 173.2,601.7" fill="none" stroke="#1a1a1a" stroke-width="1.2" stroke-linejoin="round"/>
<polyline points="112.7,601.7 129.2,601.7 130.2,598.7 131.4,601.7 144.5,601.7 145.4,586.7 146.7,601.7 173.2,601.7" fill="none" stroke="#ef9a3c" stroke-width="1.6" stroke-linejoin="round"/>
<line x1="112.7" y1="604.9" x2="173.7" y2="604.9" stroke="#333" stroke-width="1.8"/>
<line x1="127.8" y1="604.9" x2="127.8" y2="607.9" stroke="#222" stroke-width="1.1"/>
<text x="127.8" y="616.3" font-size="9.3" text-anchor="middle" fill="#222" font-weight="normal">5</text>
<line x1="142.9" y1="604.9" x2="142.9" y2="607.9" stroke="#222" stroke-width="1.1"/>
<text x="142.9" y="616.3" font-size="9.3" text-anchor="middle" fill="#222" font-weight="normal">10</text>
<line x1="158.1" y1="604.9" x2="158.1" y2="607.9" stroke="#222" stroke-width="1.1"/>
<text x="158.1" y="616.3" font-size="9.3" text-anchor="middle" fill="#222" font-weight="normal">15</text>
<line x1="173.2" y1="604.9" x2="173.2" y2="607.9" stroke="#222" stroke-width="1.1"/>
<text x="173.2" y="616.3" font-size="9.3" text-anchor="middle" fill="#222" font-weight="normal">20</text>
<text x="141.0" y="632.6" font-size="10.5" text-anchor="middle" fill="#222" font-weight="normal">Time (s)</text>
<text x="213.3" y="447.6" font-size="10.2" text-anchor="middle" fill="#222" font-weight="normal">Stragegy 2</text>
<rect x="195.3" y="456.7" width="15.8" height="43.5" fill="#fde4cb"/>
<rect x="220.4" y="456.7" width="6.7" height="43.5" fill="#fde4cb"/>
<rect x="195.6" y="509.5" width="6.7" height="43.5" fill="#fde4cb"/>
<rect x="211.0" y="509.5" width="16.1" height="43.5" fill="#fde4cb"/>
<rect x="195.6" y="561.7" width="6.7" height="43.5" fill="#fde4cb"/>
<rect x="211.0" y="561.7" width="7.0" height="43.5" fill="#fde4cb"/>
<text x="214.4" y="463.5" font-size="8.6" text-anchor="start" fill="#222" font-weight="normal">d<tspan dy="-3" font-size="6">2</tspan><tspan dy="3">:0.365</tspan></text>
<polyline points="185.9,496.7 188.3,496.7 188.9,493.7 189.5,496.7 191.4,496.7 192.0,491.7 192.9,496.7 211.4,496.7 212.6,485.7 214.1,496.7 225.3,496.7 225.9,493.7 226.5,496.7 227.0,496.7 228.0,474.7 229.2,496.7 246.5,496.7" fill="none" stroke="#1a1a1a" stroke-width="1.2" stroke-linejoin="round"/>
<polyline points="185.9,496.7 211.0,496.7 212.6,491.7 214.1,496.7 226.7,496.7 228.0,483.7 229.5,496.7 246.5,496.7" fill="none" stroke="#e1288b" stroke-width="1.6" stroke-linejoin="round"/>
<polyline points="185.9,549.5 202.6,549.5 203.5,546.5 204.4,549.5 227.1,549.5 228.0,529.5 229.2,549.5 246.5,549.5" fill="none" stroke="#1a1a1a" stroke-width="1.2" stroke-linejoin="round"/>
<polyline points="185.9,549.5 202.4,549.5 203.5,545.5 204.7,549.5 227.1,549.5 228.0,528.5 229.1,549.5 246.5,549.5" fill="none" stroke="#27a2d8" stroke-width="1.6" stroke-linejoin="round"/>
<polyline points="185.9,601.7 191.1,601.7 192.0,599.7 192.9,601.7 202.6,601.7 203.5,598.7 204.4,601.7 217.7,601.7 218.6,588.7 219.8,601.7 246.5,601.7" fill="none" stroke="#1a1a1a" stroke-width="1.2" stroke-linejoin="round"/>
<polyline points="185.9,601.7 202.4,601.7 203.5,598.7 204.7,601.7 217.7,601.7 218.6,586.7 220.0,601.7 246.5,601.7" fill="none" stroke="#ef9a3c" stroke-width="1.6" stroke-linejoin="round"/>
<line x1="185.9" y1="604.9" x2="246.9" y2="604.9" stroke="#333" stroke-width="1.8"/>
<line x1="201.1" y1="604.9" x2="201.1" y2="607.9" stroke="#222" stroke-width="1.1"/>
<text x="201.1" y="616.3" font-size="9.3" text-anchor="middle" fill="#222" font-weight="normal">5</text>
<line x1="216.2" y1="604.9" x2="216.2" y2="607.9" stroke="#222" stroke-width="1.1"/>
<text x="216.2" y="616.3" font-size="9.3" text-anchor="middle" fill="#222" font-weight="normal">10</text>
<line x1="231.3" y1="604.9" x2="231.3" y2="607.9" stroke="#222" stroke-width="1.1"/>
<text x="231.3" y="616.3" font-size="9.3" text-anchor="middle" fill="#222" font-weight="normal">15</text>
<line x1="246.5" y1="604.9" x2="246.5" y2="607.9" stroke="#222" stroke-width="1.1"/>
<text x="246.5" y="616.3" font-size="9.3" text-anchor="middle" fill="#222" font-weight="normal">20</text>
<text x="214.2" y="632.6" font-size="10.5" text-anchor="middle" fill="#222" font-weight="normal">Time (s)</text>
<text x="285.7" y="447.6" font-size="10.2" text-anchor="middle" fill="#222" font-weight="normal">Strategy 3</text>
<rect x="268.5" y="456.7" width="15.8" height="43.5" fill="#fde4cb"/>
<rect x="293.7" y="456.7" width="6.7" height="43.5" fill="#fde4cb"/>
<rect x="268.8" y="509.5" width="6.7" height="43.5" fill="#fde4cb"/>
<rect x="284.3" y="509.5" width="16.1" height="43.5" fill="#fde4cb"/>
<rect x="268.8" y="561.7" width="6.7" height="43.5" fill="#fde4cb"/>
<rect x="284.3" y="561.7" width="7.0" height="43.5" fill="#fde4cb"/>
<text x="287.6" y="463.5" font-size="8.6" text-anchor="start" fill="#222" font-weight="normal">d<tspan dy="-3" font-size="6">2</tspan><tspan dy="3">:0.367</tspan></text>
<polyline points="259.1,496.7 261.6,496.7 262.2,493.7 262.8,496.7 264.6,496.7 265.2,491.7 266.1,496.7 284.6,496.7 285.8,485.7 287.3,496.7 298.5,496.7 299.1,493.7 299.8,496.7 300.2,496.7 301.3,474.7 302.5,496.7 319.8,496.7" fill="none" stroke="#1a1a1a" stroke-width="1.2" stroke-linejoin="round"/>
<polyline points="259.1,496.7 284.3,496.7 285.8,491.7 287.3,496.7 299.9,496.7 301.3,483.7 302.8,496.7 319.8,496.7" fill="none" stroke="#e1288b" stroke-width="1.6" stroke-linejoin="round"/>
<polyline points="259.1,549.5 275.8,549.5 276.7,546.5 277.6,549.5 300.4,549.5 301.3,529.5 302.5,549.5 319.8,549.5" fill="none" stroke="#1a1a1a" stroke-width="1.2" stroke-linejoin="round"/>
<polyline points="259.1,549.5 275.7,549.5 276.7,545.5 277.9,549.5 300.4,549.5 301.3,528.5 302.3,549.5 319.8,549.5" fill="none" stroke="#27a2d8" stroke-width="1.6" stroke-linejoin="round"/>
<polyline points="259.1,601.7 264.3,601.7 265.2,599.7 266.1,601.7 275.8,601.7 276.7,598.7 277.6,601.7 291.0,601.7 291.9,588.7 293.1,601.7 319.8,601.7" fill="none" stroke="#1a1a1a" stroke-width="1.2" stroke-linejoin="round"/>
<polyline points="259.1,601.7 275.7,601.7 276.7,598.7 277.9,601.7 291.0,601.7 291.9,586.7 293.2,601.7 319.8,601.7" fill="none" stroke="#ef9a3c" stroke-width="1.6" stroke-linejoin="round"/>
<line x1="259.1" y1="604.9" x2="320.1" y2="604.9" stroke="#333" stroke-width="1.8"/>
<line x1="274.3" y1="604.9" x2="274.3" y2="607.9" stroke="#222" stroke-width="1.1"/>
<text x="274.3" y="616.3" font-size="9.3" text-anchor="middle" fill="#222" font-weight="normal">5</text>
<line x1="289.4" y1="604.9" x2="289.4" y2="607.9" stroke="#222" stroke-width="1.1"/>
<text x="289.4" y="616.3" font-size="9.3" text-anchor="middle" fill="#222" font-weight="normal">10</text>
<line x1="304.6" y1="604.9" x2="304.6" y2="607.9" stroke="#222" stroke-width="1.1"/>
<text x="304.6" y="616.3" font-size="9.3" text-anchor="middle" fill="#222" font-weight="normal">15</text>
<line x1="319.8" y1="604.9" x2="319.8" y2="607.9" stroke="#222" stroke-width="1.1"/>
<text x="319.8" y="616.3" font-size="9.3" text-anchor="middle" fill="#222" font-weight="normal">20</text>
<text x="287.4" y="632.6" font-size="10.5" text-anchor="middle" fill="#222" font-weight="normal">Time (s)</text>
<text x="359.3" y="447.6" font-size="10.2" text-anchor="middle" fill="#222" font-weight="normal">Strategy 4</text>
<rect x="341.8" y="456.7" width="15.8" height="43.5" fill="#fde4cb"/>
<rect x="366.9" y="456.7" width="6.7" height="43.5" fill="#fde4cb"/>
<rect x="342.1" y="509.5" width="6.7" height="43.5" fill="#fde4cb"/>
<rect x="357.5" y="509.5" width="16.1" height="43.5" fill="#fde4cb"/>
<rect x="342.1" y="561.7" width="6.7" height="43.5" fill="#fde4cb"/>
<rect x="357.5" y="561.7" width="7.0" height="43.5" fill="#fde4cb"/>
<text x="360.9" y="463.5" font-size="8.6" text-anchor="start" fill="#222" font-weight="normal">d<tspan dy="-3" font-size="6">2</tspan><tspan dy="3">:0.367</tspan></text>
<polyline points="332.4,496.7 334.8,496.7 335.4,493.7 336.0,496.7 337.9,496.7 338.5,491.7 339.4,496.7 357.9,496.7 359.1,485.7 360.6,496.7 371.8,496.7 372.4,493.7 373.0,496.7 373.5,496.7 374.5,474.7 375.7,496.7 393.0,496.7" fill="none" stroke="#1a1a1a" stroke-width="1.2" stroke-linejoin="round"/>
<polyline points="332.4,496.7 357.5,496.7 359.1,491.7 360.6,496.7 373.2,496.7 374.5,483.7 376.0,496.7 393.0,496.7" fill="none" stroke="#e1288b" stroke-width="1.6" stroke-linejoin="round"/>
<polyline points="332.4,549.5 349.1,549.5 350.0,546.5 350.9,549.5 373.6,549.5 374.5,529.5 375.7,549.5 393.0,549.5" fill="none" stroke="#1a1a1a" stroke-width="1.2" stroke-linejoin="round"/>
<polyline points="332.4,549.5 348.9,549.5 350.0,545.5 351.2,549.5 373.6,549.5 374.5,528.5 375.6,549.5 393.0,549.5" fill="none" stroke="#27a2d8" stroke-width="1.6" stroke-linejoin="round"/>
<polyline points="332.4,601.7 337.6,601.7 338.5,599.7 339.4,601.7 349.1,601.7 350.0,598.7 350.9,601.7 364.2,601.7 365.1,588.7 366.3,601.7 393.0,601.7" fill="none" stroke="#1a1a1a" stroke-width="1.2" stroke-linejoin="round"/>
<polyline points="332.4,601.7 348.9,601.7 350.0,598.7 351.2,601.7 364.2,601.7 365.1,586.7 366.5,601.7 393.0,601.7" fill="none" stroke="#ef9a3c" stroke-width="1.6" stroke-linejoin="round"/>
<line x1="332.4" y1="604.9" x2="393.4" y2="604.9" stroke="#333" stroke-width="1.8"/>
<line x1="347.5" y1="604.9" x2="347.5" y2="607.9" stroke="#222" stroke-width="1.1"/>
<text x="347.5" y="616.3" font-size="9.3" text-anchor="middle" fill="#222" font-weight="normal">5</text>
<line x1="362.7" y1="604.9" x2="362.7" y2="607.9" stroke="#222" stroke-width="1.1"/>
<text x="362.7" y="616.3" font-size="9.3" text-anchor="middle" fill="#222" font-weight="normal">10</text>
<line x1="377.8" y1="604.9" x2="377.8" y2="607.9" stroke="#222" stroke-width="1.1"/>
<text x="377.8" y="616.3" font-size="9.3" text-anchor="middle" fill="#222" font-weight="normal">15</text>
<line x1="393.0" y1="604.9" x2="393.0" y2="607.9" stroke="#222" stroke-width="1.1"/>
<text x="393.0" y="616.3" font-size="9.3" text-anchor="middle" fill="#222" font-weight="normal">20</text>
<text x="360.7" y="632.6" font-size="10.5" text-anchor="middle" fill="#222" font-weight="normal">Time (s)</text>
<line x1="393.2" y1="485.5" x2="393.2" y2="493.7" stroke="#e1288b" stroke-width="1.1"/>
<text x="397.5" y="487.7" font-size="7.4" text-anchor="middle" dominant-baseline="central" fill="#e1288b" font-weight="normal" transform="rotate(90 397.5 487.7)">Pred./s</text>
<text x="404.5" y="488.7" font-size="7.4" text-anchor="middle" dominant-baseline="central" fill="#e1288b" font-weight="normal" transform="rotate(90 404.5 488.7)">2.5</text>
<line x1="393.2" y1="538.3" x2="393.2" y2="546.5" stroke="#27a2d8" stroke-width="1.1"/>
<text x="397.5" y="540.5" font-size="7.4" text-anchor="middle" dominant-baseline="central" fill="#27a2d8" font-weight="normal" transform="rotate(90 397.5 540.5)">Pred./s</text>
<text x="404.5" y="541.5" font-size="7.4" text-anchor="middle" dominant-baseline="central" fill="#27a2d8" font-weight="normal" transform="rotate(90 404.5 541.5)">2.5</text>
<line x1="393.2" y1="590.5" x2="393.2" y2="598.7" stroke="#ef9a3c" stroke-width="1.1"/>
<text x="397.5" y="592.7" font-size="7.4" text-anchor="middle" dominant-baseline="central" fill="#ef9a3c" font-weight="normal" transform="rotate(90 397.5 592.7)">Pred./s</text>
<text x="404.5" y="593.7" font-size="7.4" text-anchor="middle" dominant-baseline="central" fill="#ef9a3c" font-weight="normal" transform="rotate(90 404.5 593.7)">2.5</text>
<text x="436.0" y="221.0" font-size="16" text-anchor="start" fill="#222" font-weight="bold">c</text>
<line x1="474.8" y1="217.4" x2="474.8" y2="270.5" stroke="#222" stroke-width="1.2"/>
<line x1="474.2" y1="270.5" x2="658.4" y2="270.5" stroke="#222" stroke-width="1.2"/>
<line x1="485.4" y1="270.5" x2="485.4" y2="272.8" stroke="#222" stroke-width="1"/>
<text x="485.4" y="281.7" font-size="8.3" text-anchor="middle" fill="#222" font-weight="normal">0.0</text>
<line x1="648.2" y1="270.5" x2="648.2" y2="272.8" stroke="#222" stroke-width="1"/>
<text x="648.2" y="281.7" font-size="8.3" text-anchor="middle" fill="#222" font-weight="normal">0.9</text>
<text x="561.8" y="288.0" font-size="10.2" text-anchor="middle" fill="#222" font-weight="normal">LLHi (bits/second)</text>
<text x="486.5" y="224.5" font-size="7.2" text-anchor="middle" fill="#c8283c" font-weight="normal">Cue</text>
<text x="564.4" y="224.5" font-size="7.2" text-anchor="middle" fill="#222" font-weight="normal">Strategy</text>
<rect x="488.5" y="233.1" width="93.9" height="21.5" fill="none" stroke="#222" stroke-width="1"/>
<line x1="536.1" y1="233.1" x2="536.1" y2="254.6" stroke="#222" stroke-width="1"/>
<line x1="582.4" y1="243.5" x2="650.3" y2="243.5" stroke="#222" stroke-width="1"/>
<line x1="650.3" y1="237.8" x2="650.3" y2="249.0" stroke="#222" stroke-width="1"/>
<line x1="482.7" y1="240.0" x2="482.7" y2="248.0" stroke="#222" stroke-width="1"/>
<line x1="482.7" y1="244.0" x2="488.5" y2="244.0" stroke="#222" stroke-width="1"/>
<circle cx="497.0" cy="238.8" r="1.5" fill="#aaa" stroke="#444" stroke-width="0.6"/>
<circle cx="501.7" cy="245.0" r="1.5" fill="#aaa" stroke="#444" stroke-width="0.6"/>
<circle cx="511.0" cy="251.0" r="1.5" fill="#aaa" stroke="#444" stroke-width="0.6"/>
<circle cx="514.0" cy="254.6" r="1.5" fill="#aaa" stroke="#444" stroke-width="0.6"/>
<circle cx="533.0" cy="237.4" r="1.5" fill="#aaa" stroke="#444" stroke-width="0.6"/>
<circle cx="539.6" cy="250.7" r="1.5" fill="#aaa" stroke="#444" stroke-width="0.6"/>
<circle cx="550.8" cy="253.8" r="1.5" fill="#aaa" stroke="#444" stroke-width="0.6"/>
<circle cx="554.3" cy="240.9" r="1.5" fill="#aaa" stroke="#444" stroke-width="0.6"/>
<circle cx="555.3" cy="246.0" r="1.5" fill="#aaa" stroke="#444" stroke-width="0.6"/>
<circle cx="558.3" cy="247.4" r="1.5" fill="#aaa" stroke="#444" stroke-width="0.6"/>
<circle cx="560.3" cy="247.0" r="1.5" fill="#aaa" stroke="#444" stroke-width="0.6"/>
<circle cx="564.4" cy="233.7" r="1.5" fill="#aaa" stroke="#444" stroke-width="0.6"/>
<circle cx="588.3" cy="240.5" r="1.5" fill="#aaa" stroke="#444" stroke-width="0.6"/>
<circle cx="592.0" cy="243.3" r="1.5" fill="#aaa" stroke="#444" stroke-width="0.6"/>
<circle cx="590.4" cy="252.7" r="1.5" fill="#aaa" stroke="#444" stroke-width="0.6"/>
<circle cx="607.3" cy="236.4" r="1.5" fill="#aaa" stroke="#444" stroke-width="0.6"/>
<circle cx="608.0" cy="238.4" r="1.5" fill="#aaa" stroke="#444" stroke-width="0.6"/>
<circle cx="642.7" cy="249.7" r="1.5" fill="#aaa" stroke="#444" stroke-width="0.6"/>
<circle cx="647.8" cy="246.0" r="1.5" fill="#aaa" stroke="#444" stroke-width="0.6"/>
<circle cx="650.2" cy="249.0" r="1.5" fill="#aaa" stroke="#444" stroke-width="0.6"/>
<circle cx="491.1" cy="233.7" r="1.6" fill="#b8323f" stroke="#5a1a20" stroke-width="0.6"/>
<circle cx="487.0" cy="235.8" r="1.6" fill="#b8323f" stroke="#5a1a20" stroke-width="0.6"/>
<circle cx="483.4" cy="239.9" r="1.6" fill="#b8323f" stroke="#5a1a20" stroke-width="0.6"/>
<circle cx="487.9" cy="241.9" r="1.6" fill="#b8323f" stroke="#5a1a20" stroke-width="0.6"/>
<circle cx="486.4" cy="244.0" r="1.6" fill="#b8323f" stroke="#5a1a20" stroke-width="0.6"/>
<circle cx="483.0" cy="248.6" r="1.6" fill="#b8323f" stroke="#5a1a20" stroke-width="0.6"/>
<circle cx="487.0" cy="252.7" r="1.6" fill="#b8323f" stroke="#5a1a20" stroke-width="0.6"/>
<text x="436.0" y="344.0" font-size="16" text-anchor="start" fill="#222" font-weight="bold">d</text>
<line x1="474.2" y1="363.3" x2="474.2" y2="606.0" stroke="#222" stroke-width="1.2"/>
<line x1="473.6" y1="605.9" x2="658.5" y2="605.9" stroke="#222" stroke-width="1.2"/>
<line x1="471.0" y1="568.7" x2="474.2" y2="568.7" stroke="#222" stroke-width="1"/>
<text x="469.0" y="571.7" font-size="8.5" text-anchor="end" fill="#222" font-weight="normal">0</text>
<line x1="471.0" y1="519.9" x2="474.2" y2="519.9" stroke="#222" stroke-width="1"/>
<text x="469.0" y="522.9" font-size="8.5" text-anchor="end" fill="#222" font-weight="normal">1</text>
<line x1="471.0" y1="471.1" x2="474.2" y2="471.1" stroke="#222" stroke-width="1"/>
<text x="469.0" y="474.1" font-size="8.5" text-anchor="end" fill="#222" font-weight="normal">2</text>
<line x1="471.0" y1="422.3" x2="474.2" y2="422.3" stroke="#222" stroke-width="1"/>
<text x="469.0" y="425.3" font-size="8.5" text-anchor="end" fill="#222" font-weight="normal">3</text>
<line x1="471.0" y1="373.5" x2="474.2" y2="373.5" stroke="#222" stroke-width="1"/>
<text x="469.0" y="376.5" font-size="8.5" text-anchor="end" fill="#222" font-weight="normal">4</text>
<text x="446.8" y="488.7" font-size="10.5" text-anchor="middle" dominant-baseline="central" fill="#222" font-weight="normal" transform="rotate(-90 446.8 488.7)">LLHi (bits/second)</text>
<text x="511.7" y="366.6" font-size="12" text-anchor="middle" fill="#e1288b" font-weight="bold">LS</text>
<text x="566.2" y="366.6" font-size="12" text-anchor="middle" fill="#27a2d8" font-weight="bold">SL</text>
<text x="621.0" y="366.6" font-size="12" text-anchor="middle" fill="#ee9a43" font-weight="bold">SS</text>
<line x1="501.9" y1="475.5" x2="501.9" y2="518.0" stroke="#222" stroke-width="1.1"/>
<line x1="501.9" y1="565.4" x2="501.9" y2="567.7" stroke="#222" stroke-width="1.1"/>
<line x1="497.6" y1="475.5" x2="506.2" y2="475.5" stroke="#222" stroke-width="1.1"/>
<line x1="497.6" y1="567.7" x2="506.2" y2="567.7" stroke="#222" stroke-width="1.1"/>
<rect x="493.4" y="518.0" width="17.1" height="47.4" fill="#e02a8c" stroke="#222" stroke-width="1.1"/>
<line x1="493.4" y1="550.2" x2="510.5" y2="550.2" stroke="#222" stroke-width="1.1"/>
<line x1="521.7" y1="526.2" x2="521.7" y2="551.2" stroke="#222" stroke-width="1.1"/>
<line x1="521.7" y1="572.7" x2="521.7" y2="599.3" stroke="#222" stroke-width="1.1"/>
<line x1="517.4" y1="526.2" x2="526.0" y2="526.2" stroke="#222" stroke-width="1.1"/>
<line x1="517.4" y1="599.3" x2="526.0" y2="599.3" stroke="#222" stroke-width="1.1"/>
<rect x="513.0" y="551.2" width="17.4" height="21.5" fill="#e02a8c" stroke="#222" stroke-width="1.1"/>
<line x1="513.0" y1="569.7" x2="530.4" y2="569.7" stroke="#222" stroke-width="1.1"/>
<line x1="556.8" y1="439.2" x2="556.8" y2="501.0" stroke="#222" stroke-width="1.1"/>
<line x1="556.8" y1="566.3" x2="556.8" y2="569.8" stroke="#222" stroke-width="1.1"/>
<line x1="552.5" y1="439.2" x2="561.1" y2="439.2" stroke="#222" stroke-width="1.1"/>
<line x1="552.5" y1="569.8" x2="561.1" y2="569.8" stroke="#222" stroke-width="1.1"/>
<rect x="548.3" y="501.0" width="17.0" height="65.3" fill="#27a3d9" stroke="#222" stroke-width="1.1"/>
<line x1="548.3" y1="541.4" x2="565.3" y2="541.4" stroke="#222" stroke-width="1.1"/>
<line x1="576.3" y1="560.4" x2="576.3" y2="568.6" stroke="#222" stroke-width="1.1"/>
<line x1="576.3" y1="576.5" x2="576.3" y2="585.2" stroke="#222" stroke-width="1.1"/>
<line x1="572.0" y1="560.4" x2="580.6" y2="560.4" stroke="#222" stroke-width="1.1"/>
<line x1="572.0" y1="585.2" x2="580.6" y2="585.2" stroke="#222" stroke-width="1.1"/>
<rect x="567.8" y="568.6" width="17.1" height="7.9" fill="#27a3d9" stroke="#222" stroke-width="1.1"/>
<line x1="567.8" y1="570.9" x2="584.9" y2="570.9" stroke="#222" stroke-width="1.1"/>
<line x1="611.5" y1="551.5" x2="611.5" y2="560.2" stroke="#222" stroke-width="1.1"/>
<line x1="611.5" y1="567.7" x2="611.5" y2="569.0" stroke="#222" stroke-width="1.1"/>
<line x1="607.2" y1="551.5" x2="615.8" y2="551.5" stroke="#222" stroke-width="1.1"/>
<line x1="607.2" y1="569.0" x2="615.8" y2="569.0" stroke="#222" stroke-width="1.1"/>
<rect x="602.7" y="560.2" width="17.5" height="7.5" fill="#f3a043" stroke="#222" stroke-width="1.1"/>
<line x1="602.7" y1="563.9" x2="620.2" y2="563.9" stroke="#222" stroke-width="1.1"/>
<line x1="631.3" y1="565.2" x2="631.3" y2="569.0" stroke="#222" stroke-width="1.1"/>
<line x1="631.3" y1="578.4" x2="631.3" y2="584.6" stroke="#222" stroke-width="1.1"/>
<line x1="627.0" y1="565.2" x2="635.6" y2="565.2" stroke="#222" stroke-width="1.1"/>
<line x1="627.0" y1="584.6" x2="635.6" y2="584.6" stroke="#222" stroke-width="1.1"/>
<rect x="622.9" y="569.0" width="16.9" height="9.4" fill="#f3a043" stroke="#222" stroke-width="1.1"/>
<line x1="622.9" y1="574.0" x2="639.8" y2="574.0" stroke="#222" stroke-width="1.1"/>
<line x1="500.0" y1="605.9" x2="500.0" y2="608.8" stroke="#222" stroke-width="1"/>
<text x="500.0" y="611.0" font-size="8.8" text-anchor="end" fill="#222" transform="rotate(-45 500.0 611)" dominant-baseline="hanging">Hit</text>
<line x1="522.6" y1="605.9" x2="522.6" y2="608.8" stroke="#222" stroke-width="1"/>
<text x="522.6" y="611.0" font-size="8.8" text-anchor="end" fill="#222" transform="rotate(-45 522.6 611)" dominant-baseline="hanging">Miss</text>
<line x1="556.1" y1="605.9" x2="556.1" y2="608.8" stroke="#222" stroke-width="1"/>
<text x="556.1" y="611.0" font-size="8.8" text-anchor="end" fill="#222" transform="rotate(-45 556.1 611)" dominant-baseline="hanging">Hit</text>
<line x1="576.6" y1="605.9" x2="576.6" y2="608.8" stroke="#222" stroke-width="1"/>
<text x="576.6" y="611.0" font-size="8.8" text-anchor="end" fill="#222" transform="rotate(-45 576.6 611)" dominant-baseline="hanging">Miss</text>
<line x1="612.5" y1="605.9" x2="612.5" y2="608.8" stroke="#222" stroke-width="1"/>
<text x="612.5" y="611.0" font-size="8.8" text-anchor="end" fill="#222" transform="rotate(-45 612.5 611)" dominant-baseline="hanging">CR</text>
<line x1="630.6" y1="605.9" x2="630.6" y2="608.8" stroke="#222" stroke-width="1"/>
<text x="630.6" y="611.0" font-size="8.8" text-anchor="end" fill="#222" transform="rotate(-45 630.6 611)" dominant-baseline="hanging">FA</text>
<line x1="546.9" y1="394.7" x2="586.3" y2="394.7" stroke="#8a8a8a" stroke-width="1"/>
<line x1="601.8" y1="394.7" x2="641.3" y2="394.7" stroke="#8a8a8a" stroke-width="1"/>
<polyline points="566.2,394.7 566.2,389.6 621.2,389.6 621.2,394.7" fill="none" stroke="#8a8a8a" stroke-width="1" stroke-linejoin="round"/>
<text x="592.1" y="390.5" font-size="9" text-anchor="middle" fill="#222" font-weight="normal">***</text>
<line x1="491.6" y1="414.2" x2="532.2" y2="414.2" stroke="#8a8a8a" stroke-width="1"/>
<line x1="601.8" y1="414.2" x2="641.3" y2="414.2" stroke="#8a8a8a" stroke-width="1"/>
<polyline points="511.7,414.2 511.7,409.7 621.2,409.7 621.2,414.2" fill="none" stroke="#8a8a8a" stroke-width="1" stroke-linejoin="round"/>
<text x="565.8" y="409.8" font-size="9" text-anchor="middle" fill="#222" font-weight="normal">**</text>
<text x="565.8" y="428.8" font-size="9" text-anchor="middle" fill="#222" font-weight="normal">*</text>
<text x="511.0" y="468.8" font-size="9" text-anchor="middle" fill="#222" font-weight="normal">**</text>
<text x="620.4" y="546.8" font-size="9" text-anchor="middle" fill="#222" font-weight="normal">**</text>
<text x="0.5" y="658.5" font-size="16" text-anchor="start" fill="#222" font-weight="bold">f</text>
<line x1="39.6" y1="678.6" x2="39.6" y2="827.4" stroke="#222" stroke-width="1.2"/>
<line x1="39.0" y1="827.4" x2="181.3" y2="827.4" stroke="#222" stroke-width="1.2"/>
<line x1="36.0" y1="690.4" x2="39.6" y2="690.4" stroke="#222" stroke-width="1"/>
<text x="33.6" y="693.6" font-size="9" text-anchor="end" fill="#222" font-weight="normal">0.6</text>
<line x1="36.0" y1="736.4" x2="39.6" y2="736.4" stroke="#222" stroke-width="1"/>
<text x="33.6" y="739.6" font-size="9" text-anchor="end" fill="#222" font-weight="normal">0.4</text>
<line x1="36.0" y1="782.0" x2="39.6" y2="782.0" stroke="#222" stroke-width="1"/>
<text x="33.6" y="785.2" font-size="9" text-anchor="end" fill="#222" font-weight="normal">0.2</text>
<line x1="52.0" y1="827.4" x2="52.0" y2="830.2" stroke="#222" stroke-width="1"/>
<text x="52.0" y="838.5" font-size="8.6" text-anchor="middle" fill="#222" font-weight="normal">50%</text>
<line x1="109.1" y1="827.4" x2="109.1" y2="830.2" stroke="#222" stroke-width="1"/>
<text x="109.1" y="838.5" font-size="8.6" text-anchor="middle" fill="#222" font-weight="normal">70%</text>
<line x1="167.2" y1="827.4" x2="167.2" y2="830.2" stroke="#222" stroke-width="1"/>
<text x="167.2" y="838.5" font-size="8.6" text-anchor="middle" fill="#222" font-weight="normal">90%</text>
<text x="105.8" y="855.0" font-size="10.2" text-anchor="middle" fill="#222" font-weight="normal">Percent Correct</text>
<text x="10.5" y="754" font-size="10.5" letter-spacing="0.45" text-anchor="middle" dominant-baseline="central" fill="#222" transform="rotate(-90 10.5 754)">Best Fit Model (d<tspan dy="-3.5" font-size="7.5">2</tspan><tspan dy="3.5">)</tspan></text>
<line x1="46" y1="782.7" x2="174.6" y2="741.4" stroke="#222" stroke-width="1.3" stroke-dasharray="4,2.5"/>
<text x="166.9" y="737.4" font-size="7.4" text-anchor="start" fill="#222" font-weight="normal">p=0.0449</text>
<circle cx="46.0" cy="774.3" r="2.7" fill="#9a9a9a" stroke="#333" stroke-width="0.7"/>
<circle cx="58.8" cy="824.7" r="2.7" fill="#9a9a9a" stroke="#333" stroke-width="0.7"/>
<circle cx="71.2" cy="791.1" r="2.7" fill="#9a9a9a" stroke="#333" stroke-width="0.7"/>
<circle cx="73.2" cy="743.4" r="2.7" fill="#9a9a9a" stroke="#333" stroke-width="0.7"/>
<circle cx="86.3" cy="762.6" r="2.7" fill="#9a9a9a" stroke="#333" stroke-width="0.7"/>
<circle cx="87.3" cy="780.4" r="2.7" fill="#9a9a9a" stroke="#333" stroke-width="0.7"/>
<circle cx="93.0" cy="742.8" r="2.7" fill="#9a9a9a" stroke="#333" stroke-width="0.7"/>
<circle cx="100.4" cy="759.9" r="2.7" fill="#9a9a9a" stroke="#333" stroke-width="0.7"/>
<circle cx="109.8" cy="731.3" r="2.7" fill="#9a9a9a" stroke="#333" stroke-width="0.7"/>
<circle cx="120.9" cy="728.0" r="2.7" fill="#9a9a9a" stroke="#333" stroke-width="0.7"/>
<circle cx="125.9" cy="722.3" r="2.7" fill="#9a9a9a" stroke="#333" stroke-width="0.7"/>
<circle cx="125.3" cy="803.9" r="2.7" fill="#9a9a9a" stroke="#333" stroke-width="0.7"/>
<circle cx="126.3" cy="764.2" r="2.7" fill="#9a9a9a" stroke="#333" stroke-width="0.7"/>
<circle cx="135.0" cy="765.9" r="2.7" fill="#9a9a9a" stroke="#333" stroke-width="0.7"/>
<circle cx="135.7" cy="742.1" r="2.7" fill="#9a9a9a" stroke="#333" stroke-width="0.7"/>
<circle cx="137.0" cy="735.0" r="2.7" fill="#9a9a9a" stroke="#333" stroke-width="0.7"/>
<circle cx="148.8" cy="742.8" r="2.7" fill="#9a9a9a" stroke="#333" stroke-width="0.7"/>
<circle cx="148.8" cy="776.7" r="2.7" fill="#9a9a9a" stroke="#333" stroke-width="0.7"/>
<circle cx="151.8" cy="761.6" r="2.7" fill="#9a9a9a" stroke="#333" stroke-width="0.7"/>
<circle cx="155.1" cy="751.8" r="2.7" fill="#9a9a9a" stroke="#333" stroke-width="0.7"/>
<circle cx="157.8" cy="725.0" r="2.7" fill="#9a9a9a" stroke="#333" stroke-width="0.7"/>
<circle cx="161.2" cy="738.7" r="2.7" fill="#9a9a9a" stroke="#333" stroke-width="0.7"/>
<circle cx="164.5" cy="692.7" r="2.7" fill="#9a9a9a" stroke="#333" stroke-width="0.7"/>
<circle cx="173.9" cy="768.6" r="2.7" fill="#9a9a9a" stroke="#333" stroke-width="0.7"/>
<circle cx="112.5" cy="775.0" r="2.7" fill="#c8283c" stroke="#333" stroke-width="0.7"/>
<circle cx="122.2" cy="770.3" r="2.7" fill="#5a1f62" stroke="#333" stroke-width="0.7"/>
<circle cx="133.0" cy="719.9" r="2.7" fill="#1a6b45" stroke="#333" stroke-width="0.7"/>
<circle cx="137.7" cy="778.7" r="2.7" fill="#e6e05c" stroke="#333" stroke-width="0.7"/>
<circle cx="145.7" cy="801.2" r="2.7" fill="#f0a040" stroke="#333" stroke-width="0.7"/>
<circle cx="159.8" cy="764.6" r="2.7" fill="#3b5ea6" stroke="#333" stroke-width="0.7"/>
<text x="213.0" y="658.5" font-size="16" text-anchor="start" fill="#222" font-weight="bold">g</text>
<line x1="251.3" y1="678.6" x2="251.3" y2="827.0" stroke="#222" stroke-width="1.2"/>
<line x1="250.7" y1="827.0" x2="393.0" y2="827.0" stroke="#222" stroke-width="1.2"/>
<line x1="247.7" y1="679.6" x2="251.3" y2="679.6" stroke="#222" stroke-width="1"/>
<text x="245.6" y="682.8" font-size="9" text-anchor="end" fill="#222" font-weight="normal">1.0</text>
<line x1="247.7" y1="733.4" x2="251.3" y2="733.4" stroke="#222" stroke-width="1"/>
<text x="245.6" y="736.6" font-size="9" text-anchor="end" fill="#222" font-weight="normal">0.6</text>
<line x1="247.7" y1="787.0" x2="251.3" y2="787.0" stroke="#222" stroke-width="1"/>
<text x="245.6" y="790.2" font-size="9" text-anchor="end" fill="#222" font-weight="normal">0.2</text>
<line x1="247.7" y1="813.8" x2="251.3" y2="813.8" stroke="#222" stroke-width="1"/>
<text x="245.6" y="817.0" font-size="9" text-anchor="end" fill="#222" font-weight="normal">0.0</text>
<line x1="263.7" y1="827.0" x2="263.7" y2="829.8" stroke="#222" stroke-width="1"/>
<text x="263.7" y="838.5" font-size="8.6" text-anchor="middle" fill="#222" font-weight="normal">50%</text>
<line x1="320.8" y1="827.0" x2="320.8" y2="829.8" stroke="#222" stroke-width="1"/>
<text x="320.8" y="838.5" font-size="8.6" text-anchor="middle" fill="#222" font-weight="normal">70%</text>
<line x1="379.6" y1="827.0" x2="379.6" y2="829.8" stroke="#222" stroke-width="1"/>
<text x="379.6" y="838.5" font-size="8.6" text-anchor="middle" fill="#222" font-weight="normal">90%</text>
<text x="318.1" y="855.0" font-size="10.2" text-anchor="middle" fill="#222" font-weight="normal">Percent Correct</text>
<text x="224.5" y="758.7" font-size="10.2" text-anchor="middle" dominant-baseline="central" fill="#222" font-weight="normal" transform="rotate(-90 224.5 758.7)">LLHi (bits/second)</text>
<line x1="258.7" y1="775" x2="386.3" y2="771" stroke="#222" stroke-width="1.3" stroke-dasharray="4,2.5"/>
<text x="377.2" y="765.6" font-size="7.4" text-anchor="start" fill="#222" font-weight="normal">p=0.8953</text>
<circle cx="258.0" cy="762.6" r="2.7" fill="#9a9a9a" stroke="#333" stroke-width="0.7"/>
<circle cx="270.8" cy="816.0" r="2.7" fill="#9a9a9a" stroke="#333" stroke-width="0.7"/>
<circle cx="283.9" cy="805.5" r="2.7" fill="#9a9a9a" stroke="#333" stroke-width="0.7"/>
<circle cx="285.9" cy="814.0" r="2.7" fill="#9a9a9a" stroke="#333" stroke-width="0.7"/>
<circle cx="298.6" cy="810.6" r="2.7" fill="#9a9a9a" stroke="#333" stroke-width="0.7"/>
<circle cx="300.0" cy="802.2" r="2.7" fill="#9a9a9a" stroke="#333" stroke-width="0.7"/>
<circle cx="305.4" cy="734.7" r="2.7" fill="#9a9a9a" stroke="#333" stroke-width="0.7"/>
<circle cx="312.8" cy="722.3" r="2.7" fill="#9a9a9a" stroke="#333" stroke-width="0.7"/>
<circle cx="322.5" cy="737.0" r="2.7" fill="#9a9a9a" stroke="#333" stroke-width="0.7"/>
<circle cx="333.6" cy="778.3" r="2.7" fill="#9a9a9a" stroke="#333" stroke-width="0.7"/>
<circle cx="337.3" cy="809.9" r="2.7" fill="#9a9a9a" stroke="#333" stroke-width="0.7"/>
<circle cx="338.3" cy="813.3" r="2.7" fill="#9a9a9a" stroke="#333" stroke-width="0.7"/>
<circle cx="338.3" cy="692.7" r="2.7" fill="#9a9a9a" stroke="#333" stroke-width="0.7"/>
<circle cx="347.0" cy="792.8" r="2.7" fill="#9a9a9a" stroke="#333" stroke-width="0.7"/>
<circle cx="348.0" cy="722.6" r="2.7" fill="#9a9a9a" stroke="#333" stroke-width="0.7"/>
<circle cx="349.0" cy="757.9" r="2.7" fill="#9a9a9a" stroke="#333" stroke-width="0.7"/>
<circle cx="360.8" cy="761.6" r="2.7" fill="#9a9a9a" stroke="#333" stroke-width="0.7"/>
<circle cx="361.1" cy="764.9" r="2.7" fill="#9a9a9a" stroke="#333" stroke-width="0.7"/>
<circle cx="364.1" cy="754.8" r="2.7" fill="#9a9a9a" stroke="#333" stroke-width="0.7"/>
<circle cx="367.2" cy="759.2" r="2.7" fill="#9a9a9a" stroke="#333" stroke-width="0.7"/>
<circle cx="370.2" cy="735.7" r="2.7" fill="#9a9a9a" stroke="#333" stroke-width="0.7"/>
<circle cx="373.5" cy="813.6" r="2.7" fill="#9a9a9a" stroke="#333" stroke-width="0.7"/>
<circle cx="376.9" cy="812.6" r="2.7" fill="#9a9a9a" stroke="#333" stroke-width="0.7"/>
<circle cx="386.6" cy="812.3" r="2.7" fill="#9a9a9a" stroke="#333" stroke-width="0.7"/>
<circle cx="324.5" cy="691.0" r="2.7" fill="#c8283c" stroke="#333" stroke-width="0.7"/>
<circle cx="334.6" cy="773.6" r="2.7" fill="#5a1f62" stroke="#333" stroke-width="0.7"/>
<circle cx="345.0" cy="696.4" r="2.7" fill="#1a6b45" stroke="#333" stroke-width="0.7"/>
<circle cx="350.4" cy="813.3" r="2.7" fill="#e6e05c" stroke="#333" stroke-width="0.7"/>
<circle cx="358.1" cy="816.0" r="2.7" fill="#f0a040" stroke="#333" stroke-width="0.7"/>
<circle cx="371.9" cy="795.1" r="2.7" fill="#3b5ea6" stroke="#333" stroke-width="0.7"/>
<text x="436.5" y="658.5" font-size="16" text-anchor="start" fill="#222" font-weight="bold">h</text>
<line x1="474.7" y1="678.6" x2="474.7" y2="826.7" stroke="#222" stroke-width="1.2"/>
<line x1="474.1" y1="826.7" x2="658.2" y2="826.7" stroke="#222" stroke-width="1.2"/>
<line x1="471.1" y1="690.8" x2="474.7" y2="690.8" stroke="#222" stroke-width="1"/>
<text x="468.8" y="694.0" font-size="9" text-anchor="end" fill="#222" font-weight="normal">0.6</text>
<line x1="471.1" y1="735.9" x2="474.7" y2="735.9" stroke="#222" stroke-width="1"/>
<text x="468.8" y="739.1" font-size="9" text-anchor="end" fill="#222" font-weight="normal">0.4</text>
<line x1="471.1" y1="782.0" x2="474.7" y2="782.0" stroke="#222" stroke-width="1"/>
<text x="468.8" y="785.2" font-size="9" text-anchor="end" fill="#222" font-weight="normal">0.2</text>
<line x1="497.9" y1="826.7" x2="497.9" y2="829.5" stroke="#222" stroke-width="1"/>
<text x="497.9" y="838.5" font-size="8.6" text-anchor="middle" fill="#222" font-weight="normal">65%</text>
<line x1="567.0" y1="826.7" x2="567.0" y2="829.5" stroke="#222" stroke-width="1"/>
<text x="567.0" y="838.5" font-size="8.6" text-anchor="middle" fill="#222" font-weight="normal">80%</text>
<line x1="635.0" y1="826.7" x2="635.0" y2="829.5" stroke="#222" stroke-width="1"/>
<text x="635.0" y="838.5" font-size="8.6" text-anchor="middle" fill="#222" font-weight="normal">95%</text>
<text x="561.6" y="855.5" font-size="10.2" text-anchor="middle" fill="#222" font-weight="normal">Decoding Accuracy (SVM)</text>
<text x="445.5" y="752" font-size="10.5" letter-spacing="0.45" text-anchor="middle" dominant-baseline="central" fill="#222" transform="rotate(-90 445.5 752)">Best Fit Model (d<tspan dy="-3.5" font-size="7.5">2</tspan><tspan dy="3.5">)</tspan></text>
<text x="565.8" y="678.3" font-size="7.0" text-anchor="middle" fill="#222" font-weight="normal" letter-spacing="0.55">(Spearman's ρ: 0.600, p= 0.208)</text>
<line x1="503.7" y1="781.3" x2="636" y2="752.7" stroke="#222" stroke-width="1.3" stroke-dasharray="4,2.5"/>
<circle cx="636.4" cy="775.2" r="2.7" fill="#c8283c" stroke="#333" stroke-width="0.7"/>
<circle cx="560.2" cy="770.2" r="2.7" fill="#5a1f62" stroke="#333" stroke-width="0.7"/>
<circle cx="572.7" cy="720.1" r="2.7" fill="#1a6b45" stroke="#333" stroke-width="0.7"/>
<circle cx="520.5" cy="779.1" r="2.7" fill="#e6e05c" stroke="#333" stroke-width="0.7"/>
<circle cx="503.7" cy="801.3" r="2.7" fill="#f0a040" stroke="#333" stroke-width="0.7"/>
<circle cx="585.9" cy="764.5" r="2.7" fill="#3b5ea6" stroke="#333" stroke-width="0.7"/>
</svg></body></html>
